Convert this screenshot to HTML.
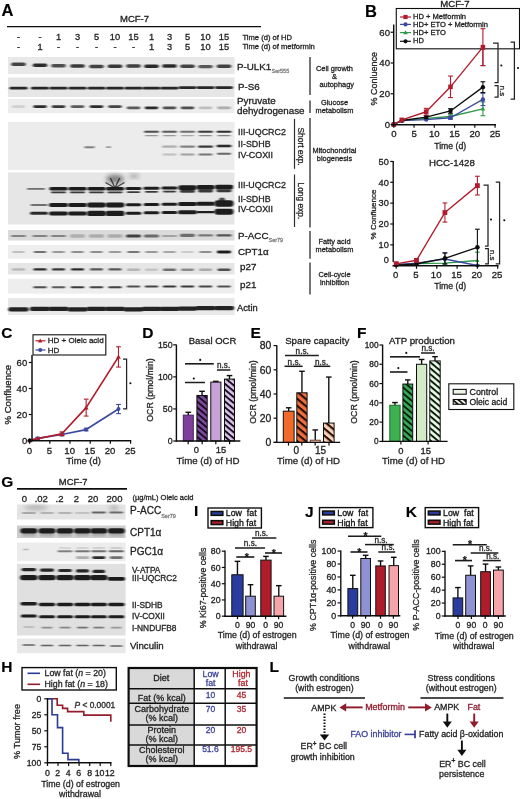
<!DOCTYPE html>
<html><head><meta charset="utf-8"><title>Figure</title>
<style>
html,body{margin:0;padding:0;background:#fff;}
svg{display:block;}
svg text{font-family:"Liberation Sans",sans-serif;}
</style></head>
<body>
<svg width="520" height="799" viewBox="0 0 520 799">
<defs>
<filter id="b1" x="-20%" y="-100%" width="140%" height="300%"><feGaussianBlur stdDeviation="0.9 0.55"/></filter>
<filter id="b2" x="-20%" y="-100%" width="140%" height="300%"><feGaussianBlur stdDeviation="1.3 0.8"/></filter>
<filter id="b3" x="-30%" y="-30%" width="160%" height="160%"><feGaussianBlur stdDeviation="2.2"/></filter>
<filter id="jpegsoft" x="0" y="0" width="520" height="799" filterUnits="userSpaceOnUse"><feGaussianBlur stdDeviation="0.32"/></filter>
<filter id="soft" x="-5%" y="-5%" width="110%" height="110%"><feGaussianBlur stdDeviation="0.35"/></filter>
<pattern id="hPurpleD" width="4.5" height="4.5" patternUnits="userSpaceOnUse" patternTransform="rotate(40)"><rect width="4.5" height="4.5" fill="#7f4c9f"/><rect width="4.5" height="1.9" fill="#160820"/></pattern>
<pattern id="hPurpleL" width="4.5" height="4.5" patternUnits="userSpaceOnUse" patternTransform="rotate(40)"><rect width="4.5" height="4.5" fill="#d9c3e3"/><rect width="4.5" height="1.9" fill="#160820"/></pattern>
<pattern id="hOrangeD" width="5.4" height="5.4" patternUnits="userSpaceOnUse" patternTransform="rotate(40)"><rect width="5.4" height="5.4" fill="#ef6f3c"/><rect width="5.4" height="2.1" fill="#260b03"/></pattern>
<pattern id="hOrangeL" width="5.4" height="5.4" patternUnits="userSpaceOnUse" patternTransform="rotate(40)"><rect width="5.4" height="5.4" fill="#fad0b8"/><rect width="5.4" height="2.1" fill="#260b03"/></pattern>
<pattern id="hGreenD" width="4.6" height="4.6" patternUnits="userSpaceOnUse" patternTransform="rotate(40)"><rect width="4.6" height="4.6" fill="#3aa857"/><rect width="4.6" height="1.9" fill="#04200d"/></pattern>
<pattern id="hGreenL" width="4.6" height="4.6" patternUnits="userSpaceOnUse" patternTransform="rotate(40)"><rect width="4.6" height="4.6" fill="#edf6e7"/><rect width="4.6" height="1.9" fill="#04200d"/></pattern>
<pattern id="hLegend" width="3.6" height="3.6" patternUnits="userSpaceOnUse" patternTransform="rotate(40)"><rect width="3.6" height="3.6" fill="#f2f8ee"/><rect width="3.6" height="1.7" fill="#111"/></pattern>
</defs>

<rect x="0" y="0" width="520" height="799" fill="#ffffff"/>
<g filter="url(#jpegsoft)">
<g id="panelA">
<text x="1.50" y="16.30" font-size="16.5" fill="#000" stroke="#000" stroke-width="0.15" font-weight="bold">A</text>
<text x="134.50" y="22.40" font-size="9.5" text-anchor="middle" fill="#222" stroke="#222" stroke-width="0.3">MCF-7</text>
<line x1="7.00" y1="26.60" x2="261.00" y2="26.60" stroke="#111" stroke-width="1.3"/>
<text x="18.50" y="40.30" font-size="9.3" text-anchor="middle" fill="#222" stroke="#222" stroke-width="0.3">-</text>
<text x="18.50" y="50.00" font-size="9.3" text-anchor="middle" fill="#222" stroke="#222" stroke-width="0.3">-</text>
<text x="40.00" y="40.30" font-size="9.3" text-anchor="middle" fill="#222" stroke="#222" stroke-width="0.3">-</text>
<text x="40.00" y="50.00" font-size="9.3" text-anchor="middle" fill="#222" stroke="#222" stroke-width="0.3">1</text>
<text x="58.50" y="40.30" font-size="9.3" text-anchor="middle" fill="#222" stroke="#222" stroke-width="0.3">1</text>
<text x="58.50" y="50.00" font-size="9.3" text-anchor="middle" fill="#222" stroke="#222" stroke-width="0.3">-</text>
<text x="77.50" y="40.30" font-size="9.3" text-anchor="middle" fill="#222" stroke="#222" stroke-width="0.3">3</text>
<text x="77.50" y="50.00" font-size="9.3" text-anchor="middle" fill="#222" stroke="#222" stroke-width="0.3">-</text>
<text x="96.50" y="40.30" font-size="9.3" text-anchor="middle" fill="#222" stroke="#222" stroke-width="0.3">5</text>
<text x="96.50" y="50.00" font-size="9.3" text-anchor="middle" fill="#222" stroke="#222" stroke-width="0.3">-</text>
<text x="115.00" y="40.30" font-size="9.3" text-anchor="middle" fill="#222" stroke="#222" stroke-width="0.3">10</text>
<text x="115.00" y="50.00" font-size="9.3" text-anchor="middle" fill="#222" stroke="#222" stroke-width="0.3">-</text>
<text x="133.50" y="40.30" font-size="9.3" text-anchor="middle" fill="#222" stroke="#222" stroke-width="0.3">15</text>
<text x="133.50" y="50.00" font-size="9.3" text-anchor="middle" fill="#222" stroke="#222" stroke-width="0.3">-</text>
<text x="151.50" y="40.30" font-size="9.3" text-anchor="middle" fill="#222" stroke="#222" stroke-width="0.3">1</text>
<text x="151.50" y="50.00" font-size="9.3" text-anchor="middle" fill="#222" stroke="#222" stroke-width="0.3">1</text>
<text x="169.50" y="40.30" font-size="9.3" text-anchor="middle" fill="#222" stroke="#222" stroke-width="0.3">3</text>
<text x="169.50" y="50.00" font-size="9.3" text-anchor="middle" fill="#222" stroke="#222" stroke-width="0.3">3</text>
<text x="187.50" y="40.30" font-size="9.3" text-anchor="middle" fill="#222" stroke="#222" stroke-width="0.3">5</text>
<text x="187.50" y="50.00" font-size="9.3" text-anchor="middle" fill="#222" stroke="#222" stroke-width="0.3">5</text>
<text x="205.50" y="40.30" font-size="9.3" text-anchor="middle" fill="#222" stroke="#222" stroke-width="0.3">10</text>
<text x="205.50" y="50.00" font-size="9.3" text-anchor="middle" fill="#222" stroke="#222" stroke-width="0.3">10</text>
<text x="224.00" y="40.30" font-size="9.3" text-anchor="middle" fill="#222" stroke="#222" stroke-width="0.3">15</text>
<text x="224.00" y="50.00" font-size="9.3" text-anchor="middle" fill="#222" stroke="#222" stroke-width="0.3">15</text>
<text x="242.50" y="39.60" font-size="7.6" fill="#262626" stroke="#262626" stroke-width="0.3">Time (d) of HD</text>
<text x="242.50" y="48.90" font-size="7.6" fill="#262626" stroke="#262626" stroke-width="0.3">Time (d) of metformin</text>
<rect x="8.00" y="57.00" width="226.50" height="17.00" fill="#e8e8e8" />
<rect x="11.25" y="62.60" width="14.50" height="3.40" rx="1.70" fill="#1a1a1a" fill-opacity="0.80" filter="url(#b1)"/>
<rect x="32.75" y="63.60" width="14.50" height="3.40" rx="1.70" fill="#1a1a1a" fill-opacity="0.90" filter="url(#b1)"/>
<rect x="51.25" y="64.10" width="14.50" height="3.40" rx="1.70" fill="#1a1a1a" fill-opacity="0.75" filter="url(#b1)"/>
<rect x="70.25" y="64.30" width="14.50" height="3.40" rx="1.70" fill="#1a1a1a" fill-opacity="0.85" filter="url(#b1)"/>
<rect x="89.25" y="64.80" width="14.50" height="3.40" rx="1.70" fill="#1a1a1a" fill-opacity="0.80" filter="url(#b1)"/>
<rect x="107.75" y="64.60" width="14.50" height="3.40" rx="1.70" fill="#1a1a1a" fill-opacity="0.85" filter="url(#b1)"/>
<rect x="126.25" y="64.30" width="14.50" height="3.40" rx="1.70" fill="#1a1a1a" fill-opacity="0.80" filter="url(#b1)"/>
<rect x="144.25" y="64.60" width="14.50" height="3.40" rx="1.70" fill="#1a1a1a" fill-opacity="0.90" filter="url(#b1)"/>
<rect x="162.25" y="64.30" width="14.50" height="3.40" rx="1.70" fill="#1a1a1a" fill-opacity="0.90" filter="url(#b1)"/>
<rect x="180.25" y="64.60" width="14.50" height="3.40" rx="1.70" fill="#1a1a1a" fill-opacity="0.80" filter="url(#b1)"/>
<rect x="198.25" y="64.90" width="14.50" height="3.40" rx="1.70" fill="#1a1a1a" fill-opacity="0.70" filter="url(#b1)"/>
<rect x="216.75" y="64.60" width="14.50" height="3.40" rx="1.70" fill="#1a1a1a" fill-opacity="0.80" filter="url(#b1)"/>
<rect x="8.00" y="77.50" width="226.50" height="19.50" fill="#e6e6e6" />
<rect x="9.50" y="86.80" width="18.00" height="2.80" rx="1.40" fill="#1a1a1a" fill-opacity="0.95" filter="url(#b1)"/>
<rect x="31.00" y="86.80" width="18.00" height="2.80" rx="1.40" fill="#1a1a1a" fill-opacity="0.95" filter="url(#b1)"/>
<rect x="49.50" y="86.80" width="18.00" height="2.80" rx="1.40" fill="#1a1a1a" fill-opacity="0.95" filter="url(#b1)"/>
<rect x="68.50" y="86.80" width="18.00" height="2.80" rx="1.40" fill="#1a1a1a" fill-opacity="0.95" filter="url(#b1)"/>
<rect x="87.50" y="86.80" width="18.00" height="2.80" rx="1.40" fill="#1a1a1a" fill-opacity="0.95" filter="url(#b1)"/>
<rect x="106.00" y="86.80" width="18.00" height="2.80" rx="1.40" fill="#1a1a1a" fill-opacity="0.95" filter="url(#b1)"/>
<rect x="124.50" y="86.80" width="18.00" height="2.80" rx="1.40" fill="#1a1a1a" fill-opacity="0.95" filter="url(#b1)"/>
<rect x="142.50" y="86.80" width="18.00" height="2.80" rx="1.40" fill="#1a1a1a" fill-opacity="0.95" filter="url(#b1)"/>
<rect x="160.50" y="86.80" width="18.00" height="2.80" rx="1.40" fill="#1a1a1a" fill-opacity="0.95" filter="url(#b1)"/>
<rect x="178.50" y="86.20" width="18.00" height="2.80" rx="1.40" fill="#1a1a1a" fill-opacity="0.95" filter="url(#b1)"/>
<rect x="196.50" y="86.20" width="18.00" height="2.80" rx="1.40" fill="#1a1a1a" fill-opacity="0.95" filter="url(#b1)"/>
<rect x="215.00" y="86.20" width="18.00" height="2.80" rx="1.40" fill="#1a1a1a" fill-opacity="0.95" filter="url(#b1)"/>
<rect x="8.00" y="99.00" width="226.50" height="14.00" fill="#ededed" />
<rect x="11.75" y="105.20" width="13.50" height="2.80" rx="1.40" fill="#1a1a1a" fill-opacity="0.12" filter="url(#b1)"/>
<rect x="33.25" y="105.20" width="13.50" height="2.80" rx="1.40" fill="#1a1a1a" fill-opacity="0.90" filter="url(#b1)"/>
<rect x="51.75" y="105.20" width="13.50" height="2.80" rx="1.40" fill="#1a1a1a" fill-opacity="0.85" filter="url(#b1)"/>
<rect x="70.75" y="105.20" width="13.50" height="2.80" rx="1.40" fill="#1a1a1a" fill-opacity="0.70" filter="url(#b1)"/>
<rect x="89.75" y="105.20" width="13.50" height="2.80" rx="1.40" fill="#1a1a1a" fill-opacity="0.90" filter="url(#b1)"/>
<rect x="108.25" y="105.20" width="13.50" height="2.80" rx="1.40" fill="#1a1a1a" fill-opacity="0.80" filter="url(#b1)"/>
<rect x="126.75" y="106.40" width="13.50" height="2.80" rx="1.40" fill="#1a1a1a" fill-opacity="0.70" filter="url(#b1)"/>
<rect x="144.75" y="106.40" width="13.50" height="2.80" rx="1.40" fill="#1a1a1a" fill-opacity="0.90" filter="url(#b1)"/>
<rect x="162.75" y="106.40" width="13.50" height="2.80" rx="1.40" fill="#1a1a1a" fill-opacity="0.75" filter="url(#b1)"/>
<rect x="180.75" y="106.40" width="13.50" height="2.80" rx="1.40" fill="#1a1a1a" fill-opacity="0.75" filter="url(#b1)"/>
<rect x="198.75" y="106.40" width="13.50" height="2.80" rx="1.40" fill="#1a1a1a" fill-opacity="0.20" filter="url(#b1)"/>
<rect x="217.25" y="106.40" width="13.50" height="2.80" rx="1.40" fill="#1a1a1a" fill-opacity="0.30" filter="url(#b1)"/>
<rect x="8.00" y="122.00" width="226.50" height="48.00" fill="#ececec" />
<rect x="144.00" y="130.75" width="15.00" height="2.10" rx="1.05" fill="#1a1a1a" fill-opacity="0.75" filter="url(#b1)"/>
<rect x="145.00" y="134.90" width="13.00" height="1.40" rx="0.70" fill="#1a1a1a" fill-opacity="0.41" filter="url(#b1)"/>
<rect x="162.00" y="130.75" width="15.00" height="2.10" rx="1.05" fill="#1a1a1a" fill-opacity="0.70" filter="url(#b1)"/>
<rect x="163.00" y="134.90" width="13.00" height="1.40" rx="0.70" fill="#1a1a1a" fill-opacity="0.39" filter="url(#b1)"/>
<rect x="180.00" y="130.75" width="15.00" height="2.10" rx="1.05" fill="#1a1a1a" fill-opacity="0.60" filter="url(#b1)"/>
<rect x="181.00" y="134.90" width="13.00" height="1.40" rx="0.70" fill="#1a1a1a" fill-opacity="0.33" filter="url(#b1)"/>
<rect x="198.00" y="130.75" width="15.00" height="2.10" rx="1.05" fill="#1a1a1a" fill-opacity="0.85" filter="url(#b1)"/>
<rect x="199.00" y="134.90" width="13.00" height="1.40" rx="0.70" fill="#1a1a1a" fill-opacity="0.47" filter="url(#b1)"/>
<rect x="216.50" y="130.75" width="15.00" height="2.10" rx="1.05" fill="#1a1a1a" fill-opacity="0.90" filter="url(#b1)"/>
<rect x="217.50" y="134.90" width="13.00" height="1.40" rx="0.70" fill="#1a1a1a" fill-opacity="0.50" filter="url(#b1)"/>
<rect x="84.25" y="146.25" width="10.50" height="1.90" rx="0.95" fill="#1a1a1a" fill-opacity="0.50" filter="url(#b1)"/>
<rect x="106.00" y="146.35" width="5.00" height="1.70" rx="0.85" fill="#1a1a1a" fill-opacity="0.40" filter="url(#b1)"/>
<rect x="162.00" y="145.40" width="15.00" height="2.40" rx="1.20" fill="#1a1a1a" fill-opacity="0.30" filter="url(#b1)"/>
<rect x="162.50" y="153.40" width="14.00" height="2.00" rx="1.00" fill="#1a1a1a" fill-opacity="0.21" filter="url(#b1)"/>
<rect x="180.00" y="145.40" width="15.00" height="2.40" rx="1.20" fill="#1a1a1a" fill-opacity="0.50" filter="url(#b1)"/>
<rect x="180.50" y="153.40" width="14.00" height="2.00" rx="1.00" fill="#1a1a1a" fill-opacity="0.35" filter="url(#b1)"/>
<rect x="198.00" y="145.40" width="15.00" height="2.40" rx="1.20" fill="#1a1a1a" fill-opacity="0.85" filter="url(#b1)"/>
<rect x="198.50" y="153.40" width="14.00" height="2.00" rx="1.00" fill="#1a1a1a" fill-opacity="0.59" filter="url(#b1)"/>
<rect x="216.50" y="144.80" width="15.00" height="2.40" rx="1.20" fill="#1a1a1a" fill-opacity="0.90" filter="url(#b1)"/>
<rect x="217.00" y="152.80" width="14.00" height="2.00" rx="1.00" fill="#1a1a1a" fill-opacity="0.63" filter="url(#b1)"/>
<rect x="8.00" y="172.50" width="226.50" height="52.00" fill="#e6e6e6" />
<ellipse cx="115" cy="179" rx="9" ry="4.5" fill="#333" fill-opacity=".55" filter="url(#b3)"/>
<ellipse cx="134" cy="176" rx="5" ry="2.5" fill="#333" fill-opacity=".3" filter="url(#b3)"/>
<line x1="115" y1="188" x2="105.5" y2="182.5" stroke="#1a1a1a" stroke-width="1.3" stroke-opacity=".8" filter="url(#soft)"/>
<line x1="115" y1="188" x2="110.4" y2="178.0" stroke="#1a1a1a" stroke-width="1.3" stroke-opacity=".8" filter="url(#soft)"/>
<line x1="115" y1="188" x2="119.6" y2="178.0" stroke="#1a1a1a" stroke-width="1.3" stroke-opacity=".8" filter="url(#soft)"/>
<line x1="115" y1="188" x2="124.5" y2="182.5" stroke="#1a1a1a" stroke-width="1.3" stroke-opacity=".8" filter="url(#soft)"/>
<rect x="27.00" y="188.10" width="18.00" height="1.60" rx="0.80" fill="#1a1a1a" fill-opacity="0.60" filter="url(#b1)"/>
<rect x="30.50" y="204.20" width="17.00" height="1.60" rx="0.80" fill="#1a1a1a" fill-opacity="0.75" filter="url(#b1)"/>
<rect x="30.00" y="211.70" width="18.00" height="3.00" rx="1.50" fill="#1a1a1a" fill-opacity="0.90" filter="url(#b1)"/>
<rect x="49.25" y="187.00" width="18.50" height="3.40" rx="1.70" fill="#1a1a1a" fill-opacity="1.00" filter="url(#b1)"/>
<rect x="51.00" y="191.60" width="15.00" height="1.60" rx="0.80" fill="#1a1a1a" fill-opacity="0.85" filter="url(#b1)"/>
<rect x="49.00" y="203.00" width="19.00" height="4.00" rx="2.00" fill="#1a1a1a" fill-opacity="1.00" filter="url(#b1)"/>
<rect x="49.00" y="211.40" width="19.00" height="4.00" rx="2.00" fill="#1a1a1a" fill-opacity="1.00" filter="url(#b1)"/>
<rect x="68.25" y="187.00" width="18.50" height="3.40" rx="1.70" fill="#1a1a1a" fill-opacity="1.00" filter="url(#b1)"/>
<rect x="70.00" y="191.60" width="15.00" height="1.60" rx="0.80" fill="#1a1a1a" fill-opacity="0.85" filter="url(#b1)"/>
<rect x="68.00" y="203.00" width="19.00" height="4.00" rx="2.00" fill="#1a1a1a" fill-opacity="1.00" filter="url(#b1)"/>
<rect x="68.00" y="211.40" width="19.00" height="4.00" rx="2.00" fill="#1a1a1a" fill-opacity="1.00" filter="url(#b1)"/>
<rect x="87.25" y="187.00" width="18.50" height="3.40" rx="1.70" fill="#1a1a1a" fill-opacity="1.00" filter="url(#b1)"/>
<rect x="89.00" y="191.60" width="15.00" height="1.60" rx="0.80" fill="#1a1a1a" fill-opacity="0.85" filter="url(#b1)"/>
<rect x="87.00" y="202.60" width="19.00" height="4.80" rx="2.40" fill="#1a1a1a" fill-opacity="1.00" filter="url(#b1)"/>
<rect x="87.00" y="210.80" width="19.00" height="5.20" rx="2.60" fill="#1a1a1a" fill-opacity="1.00" filter="url(#b1)"/>
<rect x="105.75" y="187.00" width="18.50" height="3.40" rx="1.70" fill="#1a1a1a" fill-opacity="1.00" filter="url(#b1)"/>
<rect x="107.50" y="191.60" width="15.00" height="1.60" rx="0.80" fill="#1a1a1a" fill-opacity="0.85" filter="url(#b1)"/>
<rect x="105.50" y="202.60" width="19.00" height="4.80" rx="2.40" fill="#1a1a1a" fill-opacity="1.00" filter="url(#b1)"/>
<rect x="105.50" y="210.80" width="19.00" height="5.20" rx="2.60" fill="#1a1a1a" fill-opacity="1.00" filter="url(#b1)"/>
<rect x="125.50" y="186.93" width="16.00" height="3.00" rx="1.50" fill="#1a1a1a" fill-opacity="1.00" filter="url(#b1)"/>
<rect x="127.00" y="191.33" width="13.00" height="1.60" rx="0.80" fill="#1a1a1a" fill-opacity="0.85" filter="url(#b1)"/>
<rect x="125.75" y="203.18" width="15.50" height="3.10" rx="1.55" fill="#1a1a1a" fill-opacity="1.00" filter="url(#b1)"/>
<rect x="125.75" y="211.63" width="15.50" height="3.00" rx="1.50" fill="#1a1a1a" fill-opacity="1.00" filter="url(#b1)"/>
<rect x="143.50" y="186.67" width="16.00" height="3.00" rx="1.50" fill="#1a1a1a" fill-opacity="1.00" filter="url(#b1)"/>
<rect x="145.00" y="191.07" width="13.00" height="1.60" rx="0.80" fill="#1a1a1a" fill-opacity="0.85" filter="url(#b1)"/>
<rect x="143.75" y="202.92" width="15.50" height="3.10" rx="1.55" fill="#1a1a1a" fill-opacity="1.00" filter="url(#b1)"/>
<rect x="143.75" y="211.37" width="15.50" height="3.00" rx="1.50" fill="#1a1a1a" fill-opacity="1.00" filter="url(#b1)"/>
<rect x="161.50" y="186.40" width="16.00" height="3.00" rx="1.50" fill="#1a1a1a" fill-opacity="1.00" filter="url(#b1)"/>
<rect x="163.00" y="190.80" width="13.00" height="1.60" rx="0.80" fill="#1a1a1a" fill-opacity="0.85" filter="url(#b1)"/>
<rect x="161.75" y="202.65" width="15.50" height="3.10" rx="1.55" fill="#1a1a1a" fill-opacity="1.00" filter="url(#b1)"/>
<rect x="161.75" y="211.10" width="15.50" height="3.00" rx="1.50" fill="#1a1a1a" fill-opacity="1.00" filter="url(#b1)"/>
<rect x="178.25" y="185.33" width="18.50" height="4.60" rx="2.30" fill="#1a1a1a" fill-opacity="1.00" filter="url(#b1)"/>
<rect x="180.00" y="189.93" width="15.00" height="2.80" rx="1.40" fill="#1a1a1a" fill-opacity="0.85" filter="url(#b1)"/>
<rect x="178.00" y="201.93" width="19.00" height="4.00" rx="2.00" fill="#1a1a1a" fill-opacity="1.00" filter="url(#b1)"/>
<rect x="178.00" y="210.33" width="19.00" height="4.00" rx="2.00" fill="#1a1a1a" fill-opacity="1.00" filter="url(#b1)"/>
<rect x="196.25" y="185.07" width="18.50" height="4.60" rx="2.30" fill="#1a1a1a" fill-opacity="1.00" filter="url(#b1)"/>
<rect x="198.00" y="189.67" width="15.00" height="2.80" rx="1.40" fill="#1a1a1a" fill-opacity="0.85" filter="url(#b1)"/>
<rect x="196.00" y="201.67" width="19.00" height="4.00" rx="2.00" fill="#1a1a1a" fill-opacity="1.00" filter="url(#b1)"/>
<rect x="196.00" y="210.97" width="19.00" height="2.20" rx="1.10" fill="#1a1a1a" fill-opacity="1.00" filter="url(#b1)"/>
<rect x="214.75" y="184.80" width="18.50" height="4.60" rx="2.30" fill="#1a1a1a" fill-opacity="1.00" filter="url(#b1)"/>
<rect x="216.50" y="189.40" width="15.00" height="2.80" rx="1.40" fill="#1a1a1a" fill-opacity="0.85" filter="url(#b1)"/>
<rect x="214.50" y="200.15" width="19.00" height="6.50" rx="3.25" fill="#1a1a1a" fill-opacity="1.00" filter="url(#b1)"/>
<rect x="214.50" y="208.80" width="19.00" height="6.00" rx="3.00" fill="#1a1a1a" fill-opacity="1.00" filter="url(#b1)"/>
<ellipse cx="222" cy="199.5" rx="3" ry="2" fill="#222" fill-opacity=".8" filter="url(#b1)"/>
<rect x="8.00" y="230.00" width="226.50" height="10.50" fill="#dbdbdb" />
<rect x="11.00" y="234.90" width="15.00" height="2.20" rx="1.10" fill="#1a1a1a" fill-opacity="0.45" filter="url(#b1)"/>
<rect x="32.50" y="234.90" width="15.00" height="2.20" rx="1.10" fill="#1a1a1a" fill-opacity="0.45" filter="url(#b1)"/>
<rect x="51.00" y="234.90" width="15.00" height="2.20" rx="1.10" fill="#1a1a1a" fill-opacity="0.45" filter="url(#b1)"/>
<rect x="70.00" y="234.30" width="15.00" height="3.40" rx="1.70" fill="#1a1a1a" fill-opacity="0.20" filter="url(#b1)"/>
<rect x="89.00" y="234.30" width="15.00" height="3.40" rx="1.70" fill="#1a1a1a" fill-opacity="0.25" filter="url(#b1)"/>
<rect x="107.50" y="234.30" width="15.00" height="3.40" rx="1.70" fill="#1a1a1a" fill-opacity="0.25" filter="url(#b1)"/>
<rect x="126.00" y="234.40" width="15.00" height="3.20" rx="1.60" fill="#1a1a1a" fill-opacity="0.80" filter="url(#b1)"/>
<rect x="144.00" y="234.40" width="15.00" height="3.20" rx="1.60" fill="#1a1a1a" fill-opacity="0.60" filter="url(#b1)"/>
<rect x="162.00" y="234.90" width="15.00" height="2.20" rx="1.10" fill="#1a1a1a" fill-opacity="0.30" filter="url(#b1)"/>
<rect x="180.00" y="233.80" width="15.00" height="3.20" rx="1.60" fill="#1a1a1a" fill-opacity="0.55" filter="url(#b1)"/>
<rect x="198.00" y="234.30" width="15.00" height="2.20" rx="1.10" fill="#1a1a1a" fill-opacity="0.50" filter="url(#b1)"/>
<rect x="216.50" y="234.30" width="15.00" height="2.20" rx="1.10" fill="#1a1a1a" fill-opacity="0.70" filter="url(#b1)"/>
<rect x="8.00" y="245.00" width="226.50" height="13.70" fill="#eeeeee" />
<rect x="12.25" y="250.90" width="12.50" height="2.20" rx="1.10" fill="#1a1a1a" fill-opacity="0.20" filter="url(#b1)"/>
<rect x="33.75" y="250.90" width="12.50" height="2.20" rx="1.10" fill="#1a1a1a" fill-opacity="0.60" filter="url(#b1)"/>
<rect x="52.25" y="250.90" width="12.50" height="2.20" rx="1.10" fill="#1a1a1a" fill-opacity="0.40" filter="url(#b1)"/>
<rect x="71.25" y="250.90" width="12.50" height="2.20" rx="1.10" fill="#1a1a1a" fill-opacity="0.45" filter="url(#b1)"/>
<rect x="90.25" y="250.90" width="12.50" height="2.20" rx="1.10" fill="#1a1a1a" fill-opacity="0.45" filter="url(#b1)"/>
<rect x="108.75" y="250.90" width="12.50" height="2.20" rx="1.10" fill="#1a1a1a" fill-opacity="0.40" filter="url(#b1)"/>
<rect x="127.25" y="250.90" width="12.50" height="2.20" rx="1.10" fill="#1a1a1a" fill-opacity="0.55" filter="url(#b1)"/>
<rect x="145.25" y="250.90" width="12.50" height="2.20" rx="1.10" fill="#1a1a1a" fill-opacity="0.40" filter="url(#b1)"/>
<rect x="163.25" y="250.90" width="12.50" height="2.20" rx="1.10" fill="#1a1a1a" fill-opacity="0.35" filter="url(#b1)"/>
<rect x="181.25" y="250.90" width="12.50" height="2.20" rx="1.10" fill="#1a1a1a" fill-opacity="0.15" filter="url(#b1)"/>
<rect x="199.25" y="250.90" width="12.50" height="2.20" rx="1.10" fill="#1a1a1a" fill-opacity="0.45" filter="url(#b1)"/>
<rect x="217.75" y="250.90" width="12.50" height="2.20" rx="1.10" fill="#1a1a1a" fill-opacity="0.70" filter="url(#b1)"/>
<rect x="217.00" y="250.60" width="14.00" height="2.80" rx="1.40" fill="#1a1a1a" fill-opacity="0.90" filter="url(#b1)"/>
<rect x="8.00" y="263.00" width="226.50" height="11.50" fill="#e6e6e6" />
<rect x="12.00" y="268.20" width="13.00" height="2.40" rx="1.20" fill="#1a1a1a" fill-opacity="0.25" filter="url(#b1)"/>
<rect x="33.50" y="268.20" width="13.00" height="2.40" rx="1.20" fill="#1a1a1a" fill-opacity="0.90" filter="url(#b1)"/>
<rect x="52.00" y="268.20" width="13.00" height="2.40" rx="1.20" fill="#1a1a1a" fill-opacity="0.85" filter="url(#b1)"/>
<rect x="71.00" y="268.20" width="13.00" height="2.40" rx="1.20" fill="#1a1a1a" fill-opacity="0.90" filter="url(#b1)"/>
<rect x="90.00" y="268.20" width="13.00" height="2.40" rx="1.20" fill="#1a1a1a" fill-opacity="0.70" filter="url(#b1)"/>
<rect x="108.50" y="268.20" width="13.00" height="2.40" rx="1.20" fill="#1a1a1a" fill-opacity="0.70" filter="url(#b1)"/>
<rect x="127.00" y="268.60" width="13.00" height="2.40" rx="1.20" fill="#1a1a1a" fill-opacity="0.25" filter="url(#b1)"/>
<rect x="145.00" y="268.60" width="13.00" height="2.40" rx="1.20" fill="#1a1a1a" fill-opacity="0.15" filter="url(#b1)"/>
<rect x="163.00" y="268.60" width="13.00" height="2.40" rx="1.20" fill="#1a1a1a" fill-opacity="0.60" filter="url(#b1)"/>
<rect x="181.00" y="268.60" width="13.00" height="2.40" rx="1.20" fill="#1a1a1a" fill-opacity="0.45" filter="url(#b1)"/>
<rect x="199.00" y="268.60" width="13.00" height="2.40" rx="1.20" fill="#1a1a1a" fill-opacity="0.30" filter="url(#b1)"/>
<rect x="217.50" y="268.60" width="13.00" height="2.40" rx="1.20" fill="#1a1a1a" fill-opacity="0.75" filter="url(#b1)"/>
<rect x="8.00" y="278.70" width="226.50" height="15.00" fill="#eeeeee" />
<rect x="33.25" y="286.20" width="13.50" height="2.00" rx="1.00" fill="#1a1a1a" fill-opacity="0.75" filter="url(#b1)"/>
<rect x="51.75" y="286.20" width="13.50" height="2.00" rx="1.00" fill="#1a1a1a" fill-opacity="0.70" filter="url(#b1)"/>
<rect x="70.75" y="286.20" width="13.50" height="2.00" rx="1.00" fill="#1a1a1a" fill-opacity="0.85" filter="url(#b1)"/>
<rect x="89.75" y="286.20" width="13.50" height="2.00" rx="1.00" fill="#1a1a1a" fill-opacity="0.80" filter="url(#b1)"/>
<rect x="108.25" y="286.20" width="13.50" height="2.00" rx="1.00" fill="#1a1a1a" fill-opacity="0.80" filter="url(#b1)"/>
<rect x="126.75" y="285.40" width="13.50" height="2.00" rx="1.00" fill="#1a1a1a" fill-opacity="0.75" filter="url(#b1)"/>
<rect x="144.75" y="285.40" width="13.50" height="2.00" rx="1.00" fill="#1a1a1a" fill-opacity="0.80" filter="url(#b1)"/>
<rect x="162.75" y="285.40" width="13.50" height="2.00" rx="1.00" fill="#1a1a1a" fill-opacity="0.85" filter="url(#b1)"/>
<rect x="180.75" y="285.40" width="13.50" height="2.00" rx="1.00" fill="#1a1a1a" fill-opacity="0.85" filter="url(#b1)"/>
<rect x="198.75" y="285.40" width="13.50" height="2.00" rx="1.00" fill="#1a1a1a" fill-opacity="0.80" filter="url(#b1)"/>
<rect x="217.25" y="285.40" width="13.50" height="2.00" rx="1.00" fill="#1a1a1a" fill-opacity="0.75" filter="url(#b1)"/>
<rect x="8.00" y="298.00" width="226.50" height="17.00" fill="#e8e8e8" />
<rect x="8.25" y="307.25" width="20.50" height="4.30" rx="2.15" fill="#1a1a1a" fill-opacity="0.97" filter="url(#b1)"/>
<rect x="29.75" y="306.75" width="20.50" height="4.30" rx="2.15" fill="#1a1a1a" fill-opacity="0.97" filter="url(#b1)"/>
<rect x="48.25" y="306.75" width="20.50" height="4.30" rx="2.15" fill="#1a1a1a" fill-opacity="0.97" filter="url(#b1)"/>
<rect x="67.25" y="307.25" width="20.50" height="4.30" rx="2.15" fill="#1a1a1a" fill-opacity="0.97" filter="url(#b1)"/>
<rect x="86.25" y="306.75" width="20.50" height="4.30" rx="2.15" fill="#1a1a1a" fill-opacity="0.97" filter="url(#b1)"/>
<rect x="104.75" y="306.75" width="20.50" height="4.30" rx="2.15" fill="#1a1a1a" fill-opacity="0.97" filter="url(#b1)"/>
<rect x="123.25" y="307.25" width="20.50" height="4.30" rx="2.15" fill="#1a1a1a" fill-opacity="0.97" filter="url(#b1)"/>
<rect x="141.25" y="306.75" width="20.50" height="4.30" rx="2.15" fill="#1a1a1a" fill-opacity="0.97" filter="url(#b1)"/>
<rect x="159.25" y="306.75" width="20.50" height="4.30" rx="2.15" fill="#1a1a1a" fill-opacity="0.97" filter="url(#b1)"/>
<rect x="177.25" y="306.45" width="20.50" height="4.30" rx="2.15" fill="#1a1a1a" fill-opacity="0.97" filter="url(#b1)"/>
<rect x="195.25" y="305.95" width="20.50" height="4.30" rx="2.15" fill="#1a1a1a" fill-opacity="0.97" filter="url(#b1)"/>
<rect x="213.75" y="305.95" width="20.50" height="4.30" rx="2.15" fill="#1a1a1a" fill-opacity="0.97" filter="url(#b1)"/>
<text x="237.00" y="69.50" font-size="9.8" fill="#222" stroke="#222" stroke-width="0.3">P-ULK1</text>
<text x="271.50" y="73.00" font-size="5.5" fill="#808080" stroke="#808080" stroke-width="0.3">Ser555</text>
<text x="238.00" y="90.00" font-size="9.8" fill="#222" stroke="#222" stroke-width="0.3">P-S6</text>
<text x="237.00" y="103.80" font-size="9.8" fill="#222" stroke="#222" stroke-width="0.3">Pyruvate</text>
<text x="237.00" y="113.90" font-size="9.8" fill="#222" stroke="#222" stroke-width="0.3">dehydrogenase</text>
<text x="238.00" y="135.00" font-size="8.9" fill="#262626" stroke="#262626" stroke-width="0.3">III-UQCRC2</text>
<text x="238.00" y="147.00" font-size="8.9" fill="#262626" stroke="#262626" stroke-width="0.3">II-SDHB</text>
<text x="238.00" y="157.50" font-size="8.9" fill="#262626" stroke="#262626" stroke-width="0.3">IV-COXII</text>
<text x="238.00" y="187.50" font-size="8.9" fill="#262626" stroke="#262626" stroke-width="0.3">III-UQCRC2</text>
<text x="238.00" y="202.30" font-size="8.9" fill="#262626" stroke="#262626" stroke-width="0.3">II-SDHB</text>
<text x="238.00" y="212.00" font-size="8.9" fill="#262626" stroke="#262626" stroke-width="0.3">IV-COXII</text>
<text x="238.00" y="238.80" font-size="9.8" fill="#222" stroke="#222" stroke-width="0.3">P-ACC</text>
<text x="268.50" y="242.00" font-size="5.5" fill="#808080" stroke="#808080" stroke-width="0.3">Ser79</text>
<text x="238.00" y="254.60" font-size="9.8" fill="#222" stroke="#222" stroke-width="0.3">CPT1α</text>
<text x="240.00" y="269.50" font-size="9.8" fill="#222" stroke="#222" stroke-width="0.3">p27</text>
<text x="240.00" y="288.00" font-size="9.8" fill="#222" stroke="#222" stroke-width="0.3">p21</text>
<text x="237.00" y="311.00" font-size="9.3" fill="#222" stroke="#222" stroke-width="0.3">Actin</text>
<line x1="294.50" y1="119.00" x2="294.50" y2="168.80" stroke="#2a2a2a" stroke-width="1.2"/>
<line x1="294.50" y1="174.50" x2="294.50" y2="227.00" stroke="#2a2a2a" stroke-width="1.2"/>
<text x="298.30" y="127.50" font-size="8.4" fill="#262626" stroke="#262626" stroke-width="0.3" transform="rotate(90 298.30 127.50)">Short exp.</text>
<text x="298.30" y="182.50" font-size="8.4" fill="#262626" stroke="#262626" stroke-width="0.3" transform="rotate(90 298.30 182.50)">Long exp.</text>
<line x1="310.00" y1="57.00" x2="310.00" y2="95.00" stroke="#2a2a2a" stroke-width="1.3"/>
<line x1="310.00" y1="100.50" x2="310.00" y2="113.00" stroke="#2a2a2a" stroke-width="1.3"/>
<line x1="310.00" y1="118.00" x2="310.00" y2="227.50" stroke="#2a2a2a" stroke-width="1.3"/>
<line x1="310.00" y1="231.00" x2="310.00" y2="258.80" stroke="#2a2a2a" stroke-width="1.3"/>
<line x1="310.00" y1="262.50" x2="310.00" y2="294.50" stroke="#2a2a2a" stroke-width="1.3"/>
<text x="334.50" y="71.00" font-size="7.4" text-anchor="middle" fill="#262626" stroke="#262626" stroke-width="0.3">Cell growth</text>
<text x="334.50" y="79.30" font-size="7.4" text-anchor="middle" fill="#262626" stroke="#262626" stroke-width="0.3">&amp;</text>
<text x="336.70" y="87.00" font-size="7.4" text-anchor="middle" fill="#262626" stroke="#262626" stroke-width="0.3">autophagy</text>
<text x="334.50" y="105.00" font-size="7.4" text-anchor="middle" fill="#262626" stroke="#262626" stroke-width="0.3">Glucose</text>
<text x="334.50" y="112.60" font-size="7.4" text-anchor="middle" fill="#262626" stroke="#262626" stroke-width="0.3">metabolism</text>
<text x="334.50" y="153.00" font-size="7.4" text-anchor="middle" fill="#262626" stroke="#262626" stroke-width="0.3">Mitochondrial</text>
<text x="334.50" y="161.20" font-size="7.4" text-anchor="middle" fill="#262626" stroke="#262626" stroke-width="0.3">biogenesis</text>
<text x="334.50" y="243.80" font-size="7.4" text-anchor="middle" fill="#262626" stroke="#262626" stroke-width="0.3">Fatty acid</text>
<text x="334.50" y="252.00" font-size="7.4" text-anchor="middle" fill="#262626" stroke="#262626" stroke-width="0.3">metabolism</text>
<text x="334.50" y="277.00" font-size="7.4" text-anchor="middle" fill="#262626" stroke="#262626" stroke-width="0.3">Cell-cycle</text>
<text x="334.50" y="285.20" font-size="7.4" text-anchor="middle" fill="#262626" stroke="#262626" stroke-width="0.3">inhibition</text>
</g>
<g id="panelB">
<text x="365.00" y="17.00" font-size="16.5" fill="#000" stroke="#000" stroke-width="0.15" font-weight="bold">B</text>
<polyline points="393.80,124.50 401.90,120.66 426.20,118.35 450.50,116.50 482.90,108.82" fill="none" stroke="#2f9a48" stroke-width="1.35" stroke-linejoin="round"/>
<line x1="450.50" y1="114.66" x2="450.50" y2="118.35" stroke="#2f9a48" stroke-width="1.1"/>
<line x1="448.10" y1="114.66" x2="452.90" y2="114.66" stroke="#2f9a48" stroke-width="1.1"/>
<line x1="448.10" y1="118.35" x2="452.90" y2="118.35" stroke="#2f9a48" stroke-width="1.1"/>
<line x1="482.90" y1="101.90" x2="482.90" y2="115.74" stroke="#2f9a48" stroke-width="1.1"/>
<line x1="480.50" y1="101.90" x2="485.30" y2="101.90" stroke="#2f9a48" stroke-width="1.1"/>
<line x1="480.50" y1="115.74" x2="485.30" y2="115.74" stroke="#2f9a48" stroke-width="1.1"/>
<polygon points="393.80,122.10 391.50,126.20 396.10,126.20" fill="#2f9a48"/>
<polygon points="401.90,118.26 399.60,122.36 404.20,122.36" fill="#2f9a48"/>
<polygon points="426.20,115.95 423.90,120.05 428.50,120.05" fill="#2f9a48"/>
<polygon points="450.50,114.10 448.20,118.20 452.80,118.20" fill="#2f9a48"/>
<polygon points="482.90,106.42 480.60,110.52 485.20,110.52" fill="#2f9a48"/>
<polyline points="393.80,124.50 401.90,120.66 426.20,119.58 450.50,117.73 482.90,99.44" fill="none" stroke="#3b4a9f" stroke-width="1.35" stroke-linejoin="round"/>
<line x1="450.50" y1="116.20" x2="450.50" y2="119.27" stroke="#3b4a9f" stroke-width="1.1"/>
<line x1="448.10" y1="116.20" x2="452.90" y2="116.20" stroke="#3b4a9f" stroke-width="1.1"/>
<line x1="448.10" y1="119.27" x2="452.90" y2="119.27" stroke="#3b4a9f" stroke-width="1.1"/>
<line x1="482.90" y1="93.29" x2="482.90" y2="105.59" stroke="#3b4a9f" stroke-width="1.1"/>
<line x1="480.50" y1="93.29" x2="485.30" y2="93.29" stroke="#3b4a9f" stroke-width="1.1"/>
<line x1="480.50" y1="105.59" x2="485.30" y2="105.59" stroke="#3b4a9f" stroke-width="1.1"/>
<circle cx="393.80" cy="124.50" r="2.2" fill="#3b4a9f"/>
<circle cx="401.90" cy="120.66" r="2.2" fill="#3b4a9f"/>
<circle cx="426.20" cy="119.58" r="2.2" fill="#3b4a9f"/>
<circle cx="450.50" cy="117.73" r="2.2" fill="#3b4a9f"/>
<circle cx="482.90" cy="99.44" r="2.2" fill="#3b4a9f"/>
<polyline points="393.80,124.50 401.90,120.50 426.20,117.12 450.50,110.97 482.90,87.14" fill="none" stroke="#111" stroke-width="1.35" stroke-linejoin="round"/>
<line x1="426.20" y1="115.58" x2="426.20" y2="118.66" stroke="#111" stroke-width="1.1"/>
<line x1="423.80" y1="115.58" x2="428.60" y2="115.58" stroke="#111" stroke-width="1.1"/>
<line x1="423.80" y1="118.66" x2="428.60" y2="118.66" stroke="#111" stroke-width="1.1"/>
<line x1="450.50" y1="108.66" x2="450.50" y2="113.28" stroke="#111" stroke-width="1.1"/>
<line x1="448.10" y1="108.66" x2="452.90" y2="108.66" stroke="#111" stroke-width="1.1"/>
<line x1="448.10" y1="113.28" x2="452.90" y2="113.28" stroke="#111" stroke-width="1.1"/>
<line x1="482.90" y1="81.76" x2="482.90" y2="92.52" stroke="#111" stroke-width="1.1"/>
<line x1="480.50" y1="81.76" x2="485.30" y2="81.76" stroke="#111" stroke-width="1.1"/>
<line x1="480.50" y1="92.52" x2="485.30" y2="92.52" stroke="#111" stroke-width="1.1"/>
<circle cx="393.80" cy="124.50" r="2.2" fill="#111"/>
<circle cx="401.90" cy="120.50" r="2.2" fill="#111"/>
<circle cx="426.20" cy="117.12" r="2.2" fill="#111"/>
<circle cx="450.50" cy="110.97" r="2.2" fill="#111"/>
<circle cx="482.90" cy="87.14" r="2.2" fill="#111"/>
<polyline points="393.80,124.50 401.90,119.89 426.20,111.74 450.50,86.83 482.90,47.16" fill="none" stroke="#b01f2e" stroke-width="1.35" stroke-linejoin="round"/>
<line x1="401.90" y1="118.66" x2="401.90" y2="121.12" stroke="#b01f2e" stroke-width="1.1"/>
<line x1="399.50" y1="118.66" x2="404.30" y2="118.66" stroke="#b01f2e" stroke-width="1.1"/>
<line x1="399.50" y1="121.12" x2="404.30" y2="121.12" stroke="#b01f2e" stroke-width="1.1"/>
<line x1="426.20" y1="108.36" x2="426.20" y2="115.12" stroke="#b01f2e" stroke-width="1.1"/>
<line x1="423.80" y1="108.36" x2="428.60" y2="108.36" stroke="#b01f2e" stroke-width="1.1"/>
<line x1="423.80" y1="115.12" x2="428.60" y2="115.12" stroke="#b01f2e" stroke-width="1.1"/>
<line x1="450.50" y1="76.07" x2="450.50" y2="97.59" stroke="#b01f2e" stroke-width="1.1"/>
<line x1="448.10" y1="76.07" x2="452.90" y2="76.07" stroke="#b01f2e" stroke-width="1.1"/>
<line x1="448.10" y1="97.59" x2="452.90" y2="97.59" stroke="#b01f2e" stroke-width="1.1"/>
<line x1="482.90" y1="28.71" x2="482.90" y2="65.61" stroke="#b01f2e" stroke-width="1.1"/>
<line x1="480.50" y1="28.71" x2="485.30" y2="28.71" stroke="#b01f2e" stroke-width="1.1"/>
<line x1="480.50" y1="65.61" x2="485.30" y2="65.61" stroke="#b01f2e" stroke-width="1.1"/>
<rect x="391.50" y="122.20" width="4.60" height="4.60" fill="#b01f2e" />
<rect x="399.60" y="117.59" width="4.60" height="4.60" fill="#b01f2e" />
<rect x="423.90" y="109.44" width="4.60" height="4.60" fill="#b01f2e" />
<rect x="448.20" y="84.53" width="4.60" height="4.60" fill="#b01f2e" />
<rect x="480.60" y="44.86" width="4.60" height="4.60" fill="#b01f2e" />
<line x1="393.70" y1="24.50" x2="393.70" y2="125.20" stroke="#111" stroke-width="1.4"/>
<line x1="391.00" y1="124.70" x2="496.00" y2="124.70" stroke="#111" stroke-width="1.4"/>
<line x1="390.60" y1="124.50" x2="393.70" y2="124.50" stroke="#111" stroke-width="1.2"/>
<text x="390.00" y="127.90" font-size="9.6" text-anchor="end" fill="#222" stroke="#222" stroke-width="0.3">0</text>
<line x1="390.60" y1="93.75" x2="393.70" y2="93.75" stroke="#111" stroke-width="1.2"/>
<text x="390.00" y="97.15" font-size="9.6" text-anchor="end" fill="#222" stroke="#222" stroke-width="0.3">20</text>
<line x1="390.60" y1="63.00" x2="393.70" y2="63.00" stroke="#111" stroke-width="1.2"/>
<text x="390.00" y="66.40" font-size="9.6" text-anchor="end" fill="#222" stroke="#222" stroke-width="0.3">40</text>
<line x1="390.60" y1="32.25" x2="393.70" y2="32.25" stroke="#111" stroke-width="1.2"/>
<text x="390.00" y="35.65" font-size="9.6" text-anchor="end" fill="#222" stroke="#222" stroke-width="0.3">60</text>
<line x1="393.80" y1="124.50" x2="393.80" y2="127.80" stroke="#111" stroke-width="1.2"/>
<text x="393.80" y="137.20" font-size="9.6" text-anchor="middle" fill="#222" stroke="#222" stroke-width="0.3">0</text>
<line x1="414.05" y1="124.50" x2="414.05" y2="127.80" stroke="#111" stroke-width="1.2"/>
<text x="414.05" y="137.20" font-size="9.6" text-anchor="middle" fill="#222" stroke="#222" stroke-width="0.3">5</text>
<line x1="434.30" y1="124.50" x2="434.30" y2="127.80" stroke="#111" stroke-width="1.2"/>
<text x="434.30" y="137.20" font-size="9.6" text-anchor="middle" fill="#222" stroke="#222" stroke-width="0.3">10</text>
<line x1="454.55" y1="124.50" x2="454.55" y2="127.80" stroke="#111" stroke-width="1.2"/>
<text x="454.55" y="137.20" font-size="9.6" text-anchor="middle" fill="#222" stroke="#222" stroke-width="0.3">15</text>
<line x1="474.80" y1="124.50" x2="474.80" y2="127.80" stroke="#111" stroke-width="1.2"/>
<text x="474.80" y="137.20" font-size="9.6" text-anchor="middle" fill="#222" stroke="#222" stroke-width="0.3">20</text>
<line x1="495.05" y1="124.50" x2="495.05" y2="127.80" stroke="#111" stroke-width="1.2"/>
<text x="495.05" y="137.20" font-size="9.6" text-anchor="middle" fill="#222" stroke="#222" stroke-width="0.3">25</text>
<text x="450.20" y="148.80" font-size="8.7" text-anchor="middle" fill="#262626" stroke="#262626" stroke-width="0.3">Time (d)</text>
<text x="377.40" y="78.70" font-size="9" text-anchor="middle" fill="#262626" stroke="#262626" stroke-width="0.3" transform="rotate(-90 377.40 78.70)">% Conluence</text>
<text x="455.00" y="6.90" font-size="9.6" text-anchor="middle" fill="#222" stroke="#222" stroke-width="0.3">MCF-7</text>
<rect x="396.30" y="8.50" width="123.20" height="40.30" fill="#fff" stroke="#111" stroke-width="1.1" />
<line x1="400.00" y1="17.00" x2="411.00" y2="17.00" stroke="#b01f2e" stroke-width="1.2"/>
<rect x="403.40" y="14.90" width="4.20" height="4.20" fill="#b01f2e" />
<text x="413.00" y="19.10" font-size="7.55" fill="#222" stroke="#222" stroke-width="0.3">HD + Metformin</text>
<line x1="400.00" y1="24.40" x2="411.00" y2="24.40" stroke="#3b4a9f" stroke-width="1.2"/>
<circle cx="405.5" cy="24.4" r="2.1" fill="#3b4a9f"/>
<text x="413.00" y="26.50" font-size="7.55" fill="#222" stroke="#222" stroke-width="0.3">HD+ ETO + Metformin</text>
<line x1="400.00" y1="32.60" x2="411.00" y2="32.60" stroke="#2f9a48" stroke-width="1.2"/>
<polygon points="405.5,30.3 403.2,34.300000000000004 407.8,34.300000000000004" fill="#2f9a48"/>
<text x="413.00" y="34.70" font-size="7.55" fill="#222" stroke="#222" stroke-width="0.3">HD+ ETO</text>
<line x1="400.00" y1="41.30" x2="411.00" y2="41.30" stroke="#111" stroke-width="1.2"/>
<circle cx="405.5" cy="41.3" r="2.1" fill="#111"/>
<text x="413.00" y="43.40" font-size="7.55" fill="#222" stroke="#222" stroke-width="0.3">HD</text>
<line x1="482.90" y1="28.71" x2="482.90" y2="65.61" stroke="#b01f2e" stroke-width="1.1"/>
<line x1="480.50" y1="28.71" x2="485.30" y2="28.71" stroke="#b01f2e" stroke-width="1.1"/>
<line x1="480.50" y1="65.61" x2="485.30" y2="65.61" stroke="#b01f2e" stroke-width="1.1"/>
<rect x="480.60" y="44.86" width="4.60" height="4.60" fill="#b01f2e" />
<polyline points="493.00,43.00 498.00,43.00 498.00,82.60 494.50,82.60" fill="none" stroke="#222" stroke-width="1.25"/>
<polyline points="494.50,85.60 498.00,85.60 498.00,97.20 494.50,97.20" fill="none" stroke="#222" stroke-width="1.25"/>
<polyline points="510.60,42.00 514.40,42.00 514.40,99.20 510.60,99.20" fill="none" stroke="#222" stroke-width="1.25"/>
<circle cx="501.3" cy="65.5" r="1.05" fill="#111"/><circle cx="518" cy="68" r="1.05" fill="#111"/>
<text x="499.60" y="85.80" font-size="7.8" fill="#262626" stroke="#262626" stroke-width="0.3" transform="rotate(90 499.60 85.80)">n.s</text>
<polyline points="396.20,264.66 416.50,263.62 444.92,263.20 477.40,260.49" fill="none" stroke="#2f9a48" stroke-width="1.35" stroke-linejoin="round"/>
<line x1="444.92" y1="259.03" x2="444.92" y2="265.28" stroke="#2f9a48" stroke-width="1.1"/>
<line x1="442.52" y1="259.03" x2="447.32" y2="259.03" stroke="#2f9a48" stroke-width="1.1"/>
<line x1="442.52" y1="265.28" x2="447.32" y2="265.28" stroke="#2f9a48" stroke-width="1.1"/>
<line x1="477.40" y1="252.15" x2="477.40" y2="265.07" stroke="#2f9a48" stroke-width="1.1"/>
<line x1="475.00" y1="252.15" x2="479.80" y2="252.15" stroke="#2f9a48" stroke-width="1.1"/>
<line x1="475.00" y1="265.07" x2="479.80" y2="265.07" stroke="#2f9a48" stroke-width="1.1"/>
<polygon points="396.20,262.36 394.00,266.26 398.40,266.26" fill="#2f9a48"/>
<polygon points="416.50,261.32 414.30,265.21 418.70,265.21" fill="#2f9a48"/>
<polygon points="444.92,260.90 442.72,264.80 447.12,264.80" fill="#2f9a48"/>
<polygon points="477.40,258.19 475.20,262.09 479.60,262.09" fill="#2f9a48"/>
<polyline points="396.20,264.66 416.50,263.20 444.92,259.03 477.40,265.49" fill="none" stroke="#3b4a9f" stroke-width="1.35" stroke-linejoin="round"/>
<line x1="444.92" y1="252.77" x2="444.92" y2="265.28" stroke="#3b4a9f" stroke-width="1.1"/>
<line x1="442.52" y1="252.77" x2="447.32" y2="252.77" stroke="#3b4a9f" stroke-width="1.1"/>
<line x1="442.52" y1="265.28" x2="447.32" y2="265.28" stroke="#3b4a9f" stroke-width="1.1"/>
<circle cx="396.20" cy="264.66" r="2.1" fill="#3b4a9f"/>
<circle cx="416.50" cy="263.20" r="2.1" fill="#3b4a9f"/>
<circle cx="444.92" cy="259.03" r="2.1" fill="#3b4a9f"/>
<circle cx="477.40" cy="265.49" r="2.1" fill="#3b4a9f"/>
<polyline points="396.20,265.07 416.50,264.03 444.92,258.40 477.40,247.35" fill="none" stroke="#111" stroke-width="1.35" stroke-linejoin="round"/>
<line x1="444.92" y1="252.98" x2="444.92" y2="263.82" stroke="#111" stroke-width="1.1"/>
<line x1="442.52" y1="252.98" x2="447.32" y2="252.98" stroke="#111" stroke-width="1.1"/>
<line x1="442.52" y1="263.82" x2="447.32" y2="263.82" stroke="#111" stroke-width="1.1"/>
<line x1="477.40" y1="229.21" x2="477.40" y2="265.49" stroke="#111" stroke-width="1.1"/>
<line x1="475.00" y1="229.21" x2="479.80" y2="229.21" stroke="#111" stroke-width="1.1"/>
<line x1="475.00" y1="265.49" x2="479.80" y2="265.49" stroke="#111" stroke-width="1.1"/>
<circle cx="396.20" cy="265.07" r="2.3" fill="#111"/>
<circle cx="416.50" cy="264.03" r="2.3" fill="#111"/>
<circle cx="444.92" cy="258.40" r="2.3" fill="#111"/>
<circle cx="477.40" cy="247.35" r="2.3" fill="#111"/>
<polyline points="396.20,263.82 416.50,260.28 444.92,212.53 477.40,185.64" fill="none" stroke="#b01f2e" stroke-width="1.35" stroke-linejoin="round"/>
<line x1="396.20" y1="262.16" x2="396.20" y2="265.49" stroke="#b01f2e" stroke-width="1.1"/>
<line x1="393.80" y1="262.16" x2="398.60" y2="262.16" stroke="#b01f2e" stroke-width="1.1"/>
<line x1="393.80" y1="265.49" x2="398.60" y2="265.49" stroke="#b01f2e" stroke-width="1.1"/>
<line x1="416.50" y1="258.61" x2="416.50" y2="261.95" stroke="#b01f2e" stroke-width="1.1"/>
<line x1="414.10" y1="258.61" x2="418.90" y2="258.61" stroke="#b01f2e" stroke-width="1.1"/>
<line x1="414.10" y1="261.95" x2="418.90" y2="261.95" stroke="#b01f2e" stroke-width="1.1"/>
<line x1="444.92" y1="202.94" x2="444.92" y2="222.12" stroke="#b01f2e" stroke-width="1.1"/>
<line x1="442.52" y1="202.94" x2="447.32" y2="202.94" stroke="#b01f2e" stroke-width="1.1"/>
<line x1="442.52" y1="222.12" x2="447.32" y2="222.12" stroke="#b01f2e" stroke-width="1.1"/>
<line x1="477.40" y1="176.25" x2="477.40" y2="195.02" stroke="#b01f2e" stroke-width="1.1"/>
<line x1="475.00" y1="176.25" x2="479.80" y2="176.25" stroke="#b01f2e" stroke-width="1.1"/>
<line x1="475.00" y1="195.02" x2="479.80" y2="195.02" stroke="#b01f2e" stroke-width="1.1"/>
<rect x="393.80" y="261.42" width="4.80" height="4.80" fill="#b01f2e" />
<rect x="414.10" y="257.88" width="4.80" height="4.80" fill="#b01f2e" />
<rect x="442.52" y="210.13" width="4.80" height="4.80" fill="#b01f2e" />
<rect x="475.00" y="183.24" width="4.80" height="4.80" fill="#b01f2e" />
<line x1="393.20" y1="161.00" x2="393.20" y2="262.00" stroke="#111" stroke-width="1.4"/>
<line x1="392.50" y1="265.80" x2="498.50" y2="265.80" stroke="#111" stroke-width="1.4"/>
<line x1="390.20" y1="244.85" x2="393.20" y2="244.85" stroke="#111" stroke-width="1.2"/>
<text x="388.80" y="248.15" font-size="9.2" text-anchor="end" fill="#222" stroke="#222" stroke-width="0.3">10</text>
<line x1="390.20" y1="224.00" x2="393.20" y2="224.00" stroke="#111" stroke-width="1.2"/>
<text x="388.80" y="227.30" font-size="9.2" text-anchor="end" fill="#222" stroke="#222" stroke-width="0.3">20</text>
<line x1="390.20" y1="203.15" x2="393.20" y2="203.15" stroke="#111" stroke-width="1.2"/>
<text x="388.80" y="206.45" font-size="9.2" text-anchor="end" fill="#222" stroke="#222" stroke-width="0.3">30</text>
<line x1="390.20" y1="182.30" x2="393.20" y2="182.30" stroke="#111" stroke-width="1.2"/>
<text x="388.80" y="185.60" font-size="9.2" text-anchor="end" fill="#222" stroke="#222" stroke-width="0.3">40</text>
<line x1="390.20" y1="161.45" x2="393.20" y2="161.45" stroke="#111" stroke-width="1.2"/>
<text x="388.80" y="164.75" font-size="9.2" text-anchor="end" fill="#222" stroke="#222" stroke-width="0.3">50</text>
<text x="388.80" y="263.30" font-size="9.2" text-anchor="end" fill="#222" stroke="#222" stroke-width="0.3">0</text>
<line x1="396.20" y1="265.80" x2="396.20" y2="268.80" stroke="#111" stroke-width="1.2"/>
<text x="395.60" y="277.80" font-size="9.6" text-anchor="middle" fill="#222" stroke="#222" stroke-width="0.3">0</text>
<line x1="416.50" y1="265.80" x2="416.50" y2="268.80" stroke="#111" stroke-width="1.2"/>
<text x="415.90" y="277.80" font-size="9.6" text-anchor="middle" fill="#222" stroke="#222" stroke-width="0.3">5</text>
<line x1="436.80" y1="265.80" x2="436.80" y2="268.80" stroke="#111" stroke-width="1.2"/>
<text x="436.20" y="277.80" font-size="9.6" text-anchor="middle" fill="#222" stroke="#222" stroke-width="0.3">10</text>
<line x1="457.10" y1="265.80" x2="457.10" y2="268.80" stroke="#111" stroke-width="1.2"/>
<text x="456.50" y="277.80" font-size="9.6" text-anchor="middle" fill="#222" stroke="#222" stroke-width="0.3">15</text>
<line x1="477.40" y1="265.80" x2="477.40" y2="268.80" stroke="#111" stroke-width="1.2"/>
<text x="476.80" y="277.80" font-size="9.6" text-anchor="middle" fill="#222" stroke="#222" stroke-width="0.3">20</text>
<line x1="497.70" y1="265.80" x2="497.70" y2="268.80" stroke="#111" stroke-width="1.2"/>
<text x="497.10" y="277.80" font-size="9.6" text-anchor="middle" fill="#222" stroke="#222" stroke-width="0.3">25</text>
<text x="450.20" y="289.00" font-size="8.7" text-anchor="middle" fill="#262626" stroke="#262626" stroke-width="0.3">Time (d)</text>
<text x="375.80" y="214.50" font-size="8.0" text-anchor="middle" fill="#262626" stroke="#262626" stroke-width="0.3" transform="rotate(-90 375.80 214.50)">% Confluence</text>
<text x="452.00" y="165.90" font-size="9.7" text-anchor="middle" fill="#222" stroke="#222" stroke-width="0.3">HCC-1428</text>
<polyline points="483.50,185.00 488.00,185.00 488.00,246.00 485.00,246.00" fill="none" stroke="#222" stroke-width="1.25"/>
<polyline points="485.00,248.60 488.30,248.60 488.30,263.80 485.00,263.80" fill="none" stroke="#222" stroke-width="1.25"/>
<polyline points="495.70,182.00 499.60,182.00 499.60,263.80 495.70,263.80" fill="none" stroke="#222" stroke-width="1.25"/>
<circle cx="491" cy="219.5" r="1.05" fill="#111"/><circle cx="504.3" cy="220.3" r="1.05" fill="#111"/>
<text x="489.60" y="250.00" font-size="7.8" fill="#262626" stroke="#262626" stroke-width="0.3" transform="rotate(90 489.60 250.00)">n.s</text>
</g>
<g id="panelC">
<text x="1.30" y="338.40" font-size="15.5" fill="#000" stroke="#000" stroke-width="0.15" font-weight="bold">C</text>
<polyline points="29.60,440.50 37.68,438.42 61.92,434.52 86.16,429.58 118.48,409.04" fill="none" stroke="#3b4a9f" stroke-width="1.7" stroke-linejoin="round"/>
<line x1="37.68" y1="437.25" x2="37.68" y2="439.59" stroke="#3b4a9f" stroke-width="1.1"/>
<line x1="35.28" y1="437.25" x2="40.08" y2="437.25" stroke="#3b4a9f" stroke-width="1.1"/>
<line x1="35.28" y1="439.59" x2="40.08" y2="439.59" stroke="#3b4a9f" stroke-width="1.1"/>
<line x1="61.92" y1="433.22" x2="61.92" y2="435.82" stroke="#3b4a9f" stroke-width="1.1"/>
<line x1="59.52" y1="433.22" x2="64.32" y2="433.22" stroke="#3b4a9f" stroke-width="1.1"/>
<line x1="59.52" y1="435.82" x2="64.32" y2="435.82" stroke="#3b4a9f" stroke-width="1.1"/>
<line x1="86.16" y1="428.28" x2="86.16" y2="430.88" stroke="#3b4a9f" stroke-width="1.1"/>
<line x1="83.76" y1="428.28" x2="88.56" y2="428.28" stroke="#3b4a9f" stroke-width="1.1"/>
<line x1="83.76" y1="430.88" x2="88.56" y2="430.88" stroke="#3b4a9f" stroke-width="1.1"/>
<line x1="118.48" y1="404.49" x2="118.48" y2="413.59" stroke="#3b4a9f" stroke-width="1.1"/>
<line x1="116.08" y1="404.49" x2="120.88" y2="404.49" stroke="#3b4a9f" stroke-width="1.1"/>
<line x1="116.08" y1="413.59" x2="120.88" y2="413.59" stroke="#3b4a9f" stroke-width="1.1"/>
<circle cx="29.60" cy="440.50" r="2.0" fill="#3b4a9f"/>
<circle cx="37.68" cy="438.42" r="2.0" fill="#3b4a9f"/>
<circle cx="61.92" cy="434.52" r="2.0" fill="#3b4a9f"/>
<circle cx="86.16" cy="429.58" r="2.0" fill="#3b4a9f"/>
<circle cx="118.48" cy="409.04" r="2.0" fill="#3b4a9f"/>
<polyline points="29.60,440.50 37.68,438.68 61.92,433.74 86.16,407.61 118.48,356.91" fill="none" stroke="#b01f2e" stroke-width="1.7" stroke-linejoin="round"/>
<line x1="61.92" y1="431.92" x2="61.92" y2="435.56" stroke="#b01f2e" stroke-width="1.1"/>
<line x1="59.52" y1="431.92" x2="64.32" y2="431.92" stroke="#b01f2e" stroke-width="1.1"/>
<line x1="59.52" y1="435.56" x2="64.32" y2="435.56" stroke="#b01f2e" stroke-width="1.1"/>
<line x1="86.16" y1="399.16" x2="86.16" y2="416.06" stroke="#b01f2e" stroke-width="1.1"/>
<line x1="83.76" y1="399.16" x2="88.56" y2="399.16" stroke="#b01f2e" stroke-width="1.1"/>
<line x1="83.76" y1="416.06" x2="88.56" y2="416.06" stroke="#b01f2e" stroke-width="1.1"/>
<line x1="118.48" y1="346.77" x2="118.48" y2="367.05" stroke="#b01f2e" stroke-width="1.1"/>
<line x1="116.08" y1="346.77" x2="120.88" y2="346.77" stroke="#b01f2e" stroke-width="1.1"/>
<line x1="116.08" y1="367.05" x2="120.88" y2="367.05" stroke="#b01f2e" stroke-width="1.1"/>
<polygon points="29.60,438.00 27.20,442.30 32.00,442.30" fill="#b01f2e"/>
<polygon points="37.68,436.18 35.28,440.48 40.08,440.48" fill="#b01f2e"/>
<polygon points="61.92,431.24 59.52,435.54 64.32,435.54" fill="#b01f2e"/>
<polygon points="86.16,405.11 83.76,409.41 88.56,409.41" fill="#b01f2e"/>
<polygon points="118.48,354.41 116.08,358.71 120.88,358.71" fill="#b01f2e"/>
<circle cx="29.60" cy="440.50" r="2" fill="#111"/>
<line x1="32.00" y1="355.00" x2="32.00" y2="441.40" stroke="#111" stroke-width="1.5"/>
<line x1="29.60" y1="440.70" x2="131.20" y2="440.70" stroke="#111" stroke-width="1.4"/>
<line x1="28.80" y1="440.50" x2="31.80" y2="440.50" stroke="#111" stroke-width="1.2"/>
<text x="27.20" y="443.80" font-size="9.5" text-anchor="end" fill="#222" stroke="#222" stroke-width="0.3">0</text>
<line x1="28.80" y1="414.50" x2="31.80" y2="414.50" stroke="#111" stroke-width="1.2"/>
<text x="27.20" y="417.80" font-size="9.5" text-anchor="end" fill="#222" stroke="#222" stroke-width="0.3">20</text>
<line x1="28.80" y1="388.50" x2="31.80" y2="388.50" stroke="#111" stroke-width="1.2"/>
<text x="27.20" y="391.80" font-size="9.5" text-anchor="end" fill="#222" stroke="#222" stroke-width="0.3">40</text>
<line x1="28.80" y1="362.50" x2="31.80" y2="362.50" stroke="#111" stroke-width="1.2"/>
<text x="27.20" y="365.80" font-size="9.5" text-anchor="end" fill="#222" stroke="#222" stroke-width="0.3">60</text>
<line x1="29.60" y1="440.70" x2="29.60" y2="443.70" stroke="#111" stroke-width="1.2"/>
<text x="29.30" y="454.00" font-size="9.6" text-anchor="middle" fill="#222" stroke="#222" stroke-width="0.3">0</text>
<line x1="49.80" y1="440.70" x2="49.80" y2="443.70" stroke="#111" stroke-width="1.2"/>
<text x="49.50" y="454.00" font-size="9.6" text-anchor="middle" fill="#222" stroke="#222" stroke-width="0.3">5</text>
<line x1="70.00" y1="440.70" x2="70.00" y2="443.70" stroke="#111" stroke-width="1.2"/>
<text x="69.70" y="454.00" font-size="9.6" text-anchor="middle" fill="#222" stroke="#222" stroke-width="0.3">10</text>
<line x1="90.20" y1="440.70" x2="90.20" y2="443.70" stroke="#111" stroke-width="1.2"/>
<text x="89.90" y="454.00" font-size="9.6" text-anchor="middle" fill="#222" stroke="#222" stroke-width="0.3">15</text>
<line x1="110.40" y1="440.70" x2="110.40" y2="443.70" stroke="#111" stroke-width="1.2"/>
<text x="110.10" y="454.00" font-size="9.6" text-anchor="middle" fill="#222" stroke="#222" stroke-width="0.3">20</text>
<line x1="130.60" y1="440.70" x2="130.60" y2="443.70" stroke="#111" stroke-width="1.2"/>
<text x="130.30" y="454.00" font-size="9.6" text-anchor="middle" fill="#222" stroke="#222" stroke-width="0.3">25</text>
<text x="83.50" y="464.30" font-size="9.4" text-anchor="middle" fill="#262626" stroke="#262626" stroke-width="0.3">Time (d)</text>
<text x="10.60" y="394.70" font-size="9.6" text-anchor="middle" fill="#262626" stroke="#262626" stroke-width="0.3" transform="rotate(-90 10.60 394.70)">% Confluence</text>
<rect x="33.00" y="334.80" width="72.80" height="20.20" fill="#fff" stroke="#111" stroke-width="1.1" />
<line x1="35.50" y1="340.80" x2="45.50" y2="340.80" stroke="#b01f2e" stroke-width="1.2"/>
<polygon points="40.2,338.6 38,342.6 42.4,342.6" fill="#b01f2e"/>
<text x="47.80" y="343.00" font-size="8.0" fill="#222" stroke="#222" stroke-width="0.3">HD + Oleic acid</text>
<line x1="35.50" y1="350.00" x2="45.50" y2="350.00" stroke="#3b4a9f" stroke-width="1.2"/>
<circle cx="40.2" cy="350" r="2" fill="#3b4a9f"/>
<text x="47.80" y="352.50" font-size="8.0" fill="#222" stroke="#222" stroke-width="0.3">HD</text>
<polyline points="123.00,359.00 126.60,359.00 126.60,408.90 123.00,408.90" fill="none" stroke="#222" stroke-width="1.25"/>
<circle cx="130.4" cy="383.3" r="1.05" fill="#111"/>
</g>
<g id="panelD">
<text x="142.30" y="338.30" font-size="15.5" fill="#000" stroke="#000" stroke-width="0.15" font-weight="bold">D</text>
<text x="212.50" y="344.30" font-size="9.5" text-anchor="middle" fill="#222" stroke="#222" stroke-width="0.3">Basal OCR</text>
<line x1="188.30" y1="412.27" x2="188.30" y2="415.16" stroke="#111" stroke-width="1.4"/>
<line x1="185.50" y1="412.27" x2="191.10" y2="412.27" stroke="#111" stroke-width="1.4"/>
<rect x="183.30" y="415.16" width="10.00" height="25.84" fill="#7b3f98" stroke="#4a1f63" stroke-width="1" />
<line x1="202.05" y1="391.30" x2="202.05" y2="395.47" stroke="#111" stroke-width="1.4"/>
<line x1="199.25" y1="391.30" x2="204.85" y2="391.30" stroke="#111" stroke-width="1.4"/>
<rect x="196.90" y="395.47" width="10.30" height="45.53" fill="url(#hPurpleD)" stroke="#111" stroke-width="1" />
<line x1="215.85" y1="381.36" x2="215.85" y2="382.13" stroke="#111" stroke-width="1.4"/>
<line x1="213.05" y1="381.36" x2="218.65" y2="381.36" stroke="#111" stroke-width="1.4"/>
<rect x="210.80" y="382.13" width="10.10" height="58.87" fill="#c8a2d6" stroke="#111" stroke-width="1" />
<line x1="229.50" y1="375.59" x2="229.50" y2="379.11" stroke="#111" stroke-width="1.4"/>
<line x1="226.70" y1="375.59" x2="232.30" y2="375.59" stroke="#111" stroke-width="1.4"/>
<rect x="224.50" y="379.11" width="10.00" height="61.89" fill="url(#hPurpleL)" stroke="#111" stroke-width="1" />
<line x1="176.40" y1="344.60" x2="176.40" y2="441.70" stroke="#111" stroke-width="1.4"/>
<line x1="175.70" y1="441.00" x2="240.30" y2="441.00" stroke="#111" stroke-width="1.4"/>
<line x1="173.20" y1="441.00" x2="176.40" y2="441.00" stroke="#111" stroke-width="1.2"/>
<text x="172.60" y="444.00" font-size="8.8" text-anchor="end" fill="#222" stroke="#222" stroke-width="0.3">0</text>
<line x1="173.20" y1="408.94" x2="176.40" y2="408.94" stroke="#111" stroke-width="1.2"/>
<text x="172.60" y="411.94" font-size="8.8" text-anchor="end" fill="#222" stroke="#222" stroke-width="0.3">50</text>
<line x1="173.20" y1="376.87" x2="176.40" y2="376.87" stroke="#111" stroke-width="1.2"/>
<text x="172.60" y="379.87" font-size="8.8" text-anchor="end" fill="#222" stroke="#222" stroke-width="0.3">100</text>
<line x1="173.20" y1="344.81" x2="176.40" y2="344.81" stroke="#111" stroke-width="1.2"/>
<text x="172.60" y="347.81" font-size="8.8" text-anchor="end" fill="#222" stroke="#222" stroke-width="0.3">150</text>
<line x1="188.20" y1="441.00" x2="188.20" y2="444.20" stroke="#111" stroke-width="1.2"/>
<line x1="202.20" y1="441.00" x2="202.20" y2="444.20" stroke="#111" stroke-width="1.2"/>
<line x1="215.80" y1="441.00" x2="215.80" y2="444.20" stroke="#111" stroke-width="1.2"/>
<line x1="229.60" y1="441.00" x2="229.60" y2="444.20" stroke="#111" stroke-width="1.2"/>
<text x="196.30" y="452.60" font-size="9.4" text-anchor="middle" fill="#222" stroke="#222" stroke-width="0.3">0</text>
<text x="221.00" y="452.60" font-size="9.4" text-anchor="middle" fill="#222" stroke="#222" stroke-width="0.3">15</text>
<text x="208.00" y="464.30" font-size="9.7" text-anchor="middle" fill="#262626" stroke="#262626" stroke-width="0.3">Time (d) of HD</text>
<text x="153.00" y="390.00" font-size="8.8" text-anchor="middle" fill="#262626" stroke="#262626" stroke-width="0.3" transform="rotate(-90 153.00 390.00)">OCR (pmol/min)</text>
<line x1="185.00" y1="363.80" x2="213.80" y2="363.80" stroke="#1a1a1a" stroke-width="1.6"/>
<circle cx="200.20" cy="359.90" r="1.05" fill="#111"/>
<line x1="185.00" y1="382.50" x2="205.00" y2="382.50" stroke="#1a1a1a" stroke-width="1.5"/>
<circle cx="193.80" cy="378.60" r="1.05" fill="#111"/>
<line x1="217.00" y1="370.00" x2="230.40" y2="370.00" stroke="#1a1a1a" stroke-width="1.5"/>
<text x="223.60" y="368.30" font-size="8.2" text-anchor="middle" fill="#262626" stroke="#262626" stroke-width="0.3">n.s.</text>
</g>
<g id="panelE">
<text x="250.60" y="338.30" font-size="15.5" fill="#000" stroke="#000" stroke-width="0.15" font-weight="bold">E</text>
<text x="317.20" y="343.80" font-size="9.7" text-anchor="middle" fill="#222" stroke="#222" stroke-width="0.3">Spare capacity</text>
<line x1="288.70" y1="407.79" x2="288.70" y2="411.18" stroke="#111" stroke-width="1.4"/>
<line x1="285.90" y1="407.79" x2="291.50" y2="407.79" stroke="#111" stroke-width="1.4"/>
<rect x="283.30" y="411.18" width="10.80" height="31.22" fill="#f26a2a" stroke="#111" stroke-width="1" />
<line x1="301.95" y1="371.25" x2="301.95" y2="392.79" stroke="#111" stroke-width="1.4"/>
<line x1="299.15" y1="371.25" x2="304.75" y2="371.25" stroke="#111" stroke-width="1.4"/>
<rect x="296.80" y="392.79" width="10.30" height="49.61" fill="url(#hOrangeD)" stroke="#111" stroke-width="1" />
<line x1="315.25" y1="429.94" x2="315.25" y2="440.22" stroke="#111" stroke-width="1.4"/>
<line x1="312.45" y1="429.94" x2="318.05" y2="429.94" stroke="#111" stroke-width="1.4"/>
<rect x="310.30" y="440.22" width="9.90" height="2.18" fill="#f9cdb8" stroke="#6b3a25" stroke-width="1" />
<line x1="328.80" y1="377.06" x2="328.80" y2="423.04" stroke="#111" stroke-width="1.4"/>
<line x1="326.00" y1="377.06" x2="331.60" y2="377.06" stroke="#111" stroke-width="1.4"/>
<rect x="323.50" y="423.04" width="10.60" height="19.36" fill="url(#hOrangeL)" stroke="#111" stroke-width="1" />
<line x1="276.80" y1="345.30" x2="276.80" y2="443.10" stroke="#111" stroke-width="1.4"/>
<line x1="273.60" y1="442.40" x2="340.20" y2="442.40" stroke="#111" stroke-width="1.4"/>
<line x1="273.60" y1="442.40" x2="276.80" y2="442.40" stroke="#111" stroke-width="1.2"/>
<text x="271.20" y="446.10" font-size="10.4" text-anchor="end" fill="#222" stroke="#222" stroke-width="0.3">0</text>
<line x1="273.60" y1="418.20" x2="276.80" y2="418.20" stroke="#111" stroke-width="1.2"/>
<text x="271.20" y="421.90" font-size="10.4" text-anchor="end" fill="#222" stroke="#222" stroke-width="0.3">20</text>
<line x1="273.60" y1="394.00" x2="276.80" y2="394.00" stroke="#111" stroke-width="1.2"/>
<text x="271.20" y="397.70" font-size="10.4" text-anchor="end" fill="#222" stroke="#222" stroke-width="0.3">40</text>
<line x1="273.60" y1="369.80" x2="276.80" y2="369.80" stroke="#111" stroke-width="1.2"/>
<text x="271.20" y="373.50" font-size="10.4" text-anchor="end" fill="#222" stroke="#222" stroke-width="0.3">60</text>
<line x1="273.60" y1="345.60" x2="276.80" y2="345.60" stroke="#111" stroke-width="1.2"/>
<text x="271.20" y="349.30" font-size="10.4" text-anchor="end" fill="#222" stroke="#222" stroke-width="0.3">80</text>
<line x1="288.50" y1="442.40" x2="288.50" y2="445.60" stroke="#111" stroke-width="1.2"/>
<line x1="301.80" y1="442.40" x2="301.80" y2="445.60" stroke="#111" stroke-width="1.2"/>
<line x1="315.20" y1="442.40" x2="315.20" y2="445.60" stroke="#111" stroke-width="1.2"/>
<line x1="329.00" y1="442.40" x2="329.00" y2="445.60" stroke="#111" stroke-width="1.2"/>
<text x="296.30" y="454.30" font-size="10" text-anchor="middle" fill="#222" stroke="#222" stroke-width="0.3">0</text>
<text x="320.50" y="454.30" font-size="10" text-anchor="middle" fill="#222" stroke="#222" stroke-width="0.3">15</text>
<text x="308.50" y="464.30" font-size="9.7" text-anchor="middle" fill="#262626" stroke="#262626" stroke-width="0.3">Time (d) of HD</text>
<text x="256.40" y="392.00" font-size="8.8" text-anchor="middle" fill="#262626" stroke="#262626" stroke-width="0.3" transform="rotate(-90 256.40 392.00)">OCR (pmol/min)</text>
<line x1="285.00" y1="355.60" x2="318.80" y2="355.60" stroke="#1a1a1a" stroke-width="1.5"/>
<text x="302.20" y="353.90" font-size="8.2" text-anchor="middle" fill="#262626" stroke="#262626" stroke-width="0.3">n.s.</text>
<line x1="284.50" y1="366.30" x2="302.60" y2="366.30" stroke="#1a1a1a" stroke-width="1.5"/>
<text x="294.20" y="364.60" font-size="8.2" text-anchor="middle" fill="#262626" stroke="#262626" stroke-width="0.3">n.s.</text>
<line x1="313.80" y1="366.30" x2="330.20" y2="366.30" stroke="#1a1a1a" stroke-width="1.5"/>
<text x="321.60" y="364.60" font-size="8.2" text-anchor="middle" fill="#262626" stroke="#262626" stroke-width="0.3">n.s.</text>
</g>
<g id="panelF">
<text x="357.00" y="338.30" font-size="15.5" fill="#000" stroke="#000" stroke-width="0.15" font-weight="bold">F</text>
<text x="422.00" y="343.80" font-size="9.7" text-anchor="middle" fill="#222" stroke="#222" stroke-width="0.3">ATP production</text>
<line x1="394.95" y1="402.55" x2="394.95" y2="405.25" stroke="#111" stroke-width="1.4"/>
<line x1="392.15" y1="402.55" x2="397.75" y2="402.55" stroke="#111" stroke-width="1.4"/>
<rect x="389.80" y="405.25" width="10.30" height="36.15" fill="#3cb04f" stroke="#1c6b2c" stroke-width="1" />
<line x1="407.80" y1="379.90" x2="407.80" y2="384.04" stroke="#111" stroke-width="1.4"/>
<line x1="405.00" y1="379.90" x2="410.60" y2="379.90" stroke="#111" stroke-width="1.4"/>
<rect x="402.90" y="384.04" width="9.80" height="57.36" fill="url(#hGreenD)" stroke="#111" stroke-width="1" />
<line x1="421.60" y1="359.46" x2="421.60" y2="364.28" stroke="#111" stroke-width="1.4"/>
<line x1="418.80" y1="359.46" x2="424.40" y2="359.46" stroke="#111" stroke-width="1.4"/>
<rect x="416.50" y="364.28" width="10.20" height="77.12" fill="#d3eac6" stroke="#111" stroke-width="1" />
<line x1="435.00" y1="356.66" x2="435.00" y2="360.91" stroke="#111" stroke-width="1.4"/>
<line x1="432.20" y1="356.66" x2="437.80" y2="356.66" stroke="#111" stroke-width="1.4"/>
<rect x="429.80" y="360.91" width="10.40" height="80.49" fill="url(#hGreenL)" stroke="#111" stroke-width="1" />
<line x1="382.60" y1="344.60" x2="382.60" y2="442.10" stroke="#111" stroke-width="1.4"/>
<line x1="381.90" y1="441.40" x2="447.60" y2="441.40" stroke="#111" stroke-width="1.4"/>
<line x1="379.40" y1="441.40" x2="382.60" y2="441.40" stroke="#111" stroke-width="1.2"/>
<text x="378.60" y="444.40" font-size="8.3" text-anchor="end" fill="#222" stroke="#222" stroke-width="0.3">0</text>
<line x1="379.40" y1="422.12" x2="382.60" y2="422.12" stroke="#111" stroke-width="1.2"/>
<text x="378.60" y="425.12" font-size="8.3" text-anchor="end" fill="#222" stroke="#222" stroke-width="0.3">20</text>
<line x1="379.40" y1="402.84" x2="382.60" y2="402.84" stroke="#111" stroke-width="1.2"/>
<text x="378.60" y="405.84" font-size="8.3" text-anchor="end" fill="#222" stroke="#222" stroke-width="0.3">40</text>
<line x1="379.40" y1="383.56" x2="382.60" y2="383.56" stroke="#111" stroke-width="1.2"/>
<text x="378.60" y="386.56" font-size="8.3" text-anchor="end" fill="#222" stroke="#222" stroke-width="0.3">60</text>
<line x1="379.40" y1="364.28" x2="382.60" y2="364.28" stroke="#111" stroke-width="1.2"/>
<text x="378.60" y="367.28" font-size="8.3" text-anchor="end" fill="#222" stroke="#222" stroke-width="0.3">80</text>
<line x1="379.40" y1="345.00" x2="382.60" y2="345.00" stroke="#111" stroke-width="1.2"/>
<text x="378.60" y="348.00" font-size="8.3" text-anchor="end" fill="#222" stroke="#222" stroke-width="0.3">100</text>
<line x1="400.90" y1="441.40" x2="400.90" y2="444.60" stroke="#111" stroke-width="1.2"/>
<line x1="428.10" y1="441.40" x2="428.10" y2="444.60" stroke="#111" stroke-width="1.2"/>
<text x="400.80" y="453.80" font-size="9.4" text-anchor="middle" fill="#222" stroke="#222" stroke-width="0.3">0</text>
<text x="425.80" y="453.80" font-size="9.4" text-anchor="middle" fill="#222" stroke="#222" stroke-width="0.3">15</text>
<text x="413.50" y="463.90" font-size="9.7" text-anchor="middle" fill="#262626" stroke="#262626" stroke-width="0.3">Time (d) of HD</text>
<text x="356.80" y="392.00" font-size="8.8" text-anchor="middle" fill="#262626" stroke="#262626" stroke-width="0.3" transform="rotate(-90 356.80 392.00)">OCR (pmol/min)</text>
<line x1="390.00" y1="356.80" x2="420.00" y2="356.80" stroke="#1a1a1a" stroke-width="1.6"/>
<circle cx="406.30" cy="352.90" r="1.05" fill="#111"/>
<line x1="390.00" y1="372.00" x2="407.50" y2="372.00" stroke="#1a1a1a" stroke-width="1.6"/>
<circle cx="398.30" cy="368.10" r="1.05" fill="#111"/>
<line x1="421.00" y1="353.00" x2="435.00" y2="353.00" stroke="#1a1a1a" stroke-width="1.5"/>
<text x="428.00" y="351.30" font-size="8.2" text-anchor="middle" fill="#262626" stroke="#262626" stroke-width="0.3">n.s.</text>
<rect x="448.80" y="383.80" width="65.00" height="25.70" fill="#fff" stroke="#111" stroke-width="1.1" />
<rect x="453.20" y="389.40" width="13.00" height="4.80" fill="#eef6e8" stroke="#111" stroke-width="1.1" />
<rect x="453.20" y="399.50" width="13.00" height="4.80" fill="url(#hLegend)" stroke="#111" stroke-width="1.1" />
<text x="469.50" y="395.00" font-size="8.9" fill="#222" stroke="#222" stroke-width="0.3">Control</text>
<text x="469.50" y="405.00" font-size="8.6" fill="#222" stroke="#222" stroke-width="0.3">Oleic acid</text>
</g>
<g id="panelG">
<text x="1.20" y="487.20" font-size="15.5" fill="#000" stroke="#000" stroke-width="0.15" font-weight="bold">G</text>
<text x="73.20" y="485.20" font-size="9.4" text-anchor="middle" fill="#222" stroke="#222" stroke-width="0.3">MCF-7</text>
<line x1="17.00" y1="488.90" x2="127.00" y2="488.90" stroke="#111" stroke-width="1.6"/>
<text x="24.30" y="501.90" font-size="9.5" text-anchor="middle" fill="#222" stroke="#222" stroke-width="0.3">0</text>
<text x="41.30" y="501.90" font-size="9.5" text-anchor="middle" fill="#222" stroke="#222" stroke-width="0.3">.02</text>
<text x="59.50" y="501.90" font-size="9.5" text-anchor="middle" fill="#222" stroke="#222" stroke-width="0.3">.2</text>
<text x="76.30" y="501.90" font-size="9.5" text-anchor="middle" fill="#222" stroke="#222" stroke-width="0.3">2</text>
<text x="93.00" y="501.90" font-size="9.5" text-anchor="middle" fill="#222" stroke="#222" stroke-width="0.3">20</text>
<text x="114.50" y="501.90" font-size="9.5" text-anchor="middle" fill="#222" stroke="#222" stroke-width="0.3">200</text>
<text x="132.50" y="499.60" font-size="7.5" fill="#262626" stroke="#262626" stroke-width="0.3">(µg/mL) Oleic acid</text>
<rect x="17.00" y="504.50" width="108.60" height="15.00" fill="#e4e4e4" />
<ellipse cx="36" cy="507.5" rx="12" ry="2.5" fill="#555" fill-opacity=".35" filter="url(#b3)"/>
<ellipse cx="114" cy="508" rx="5" ry="3" fill="#555" fill-opacity=".3" filter="url(#b3)"/>
<rect x="21.80" y="512.05" width="14.00" height="1.90" rx="0.95" fill="#1a1a1a" fill-opacity="0.30" filter="url(#b1)"/>
<rect x="40.00" y="512.05" width="14.00" height="1.90" rx="0.95" fill="#1a1a1a" fill-opacity="0.25" filter="url(#b1)"/>
<rect x="58.00" y="512.05" width="14.00" height="1.90" rx="0.95" fill="#1a1a1a" fill-opacity="0.25" filter="url(#b1)"/>
<rect x="75.50" y="512.05" width="14.00" height="1.90" rx="0.95" fill="#1a1a1a" fill-opacity="0.18" filter="url(#b1)"/>
<rect x="91.80" y="511.55" width="14.00" height="1.90" rx="0.95" fill="#1a1a1a" fill-opacity="0.65" filter="url(#b1)"/>
<rect x="109.30" y="511.55" width="14.00" height="1.90" rx="0.95" fill="#1a1a1a" fill-opacity="0.60" filter="url(#b1)"/>
<rect x="17.00" y="525.50" width="108.60" height="12.50" fill="#cdcdcd" />
<rect x="20.30" y="528.20" width="17.00" height="5.20" rx="2.60" fill="#1a1a1a" fill-opacity="1.00" filter="url(#b1)"/>
<rect x="21.80" y="533.00" width="14.00" height="3.00" rx="1.50" fill="#1a1a1a" fill-opacity="0.25" filter="url(#b2)"/>
<rect x="38.50" y="528.20" width="17.00" height="5.20" rx="2.60" fill="#1a1a1a" fill-opacity="1.00" filter="url(#b1)"/>
<rect x="40.00" y="533.00" width="14.00" height="3.00" rx="1.50" fill="#1a1a1a" fill-opacity="0.25" filter="url(#b2)"/>
<rect x="56.50" y="528.20" width="17.00" height="5.20" rx="2.60" fill="#1a1a1a" fill-opacity="1.00" filter="url(#b1)"/>
<rect x="58.00" y="533.00" width="14.00" height="3.00" rx="1.50" fill="#1a1a1a" fill-opacity="0.25" filter="url(#b2)"/>
<rect x="74.00" y="528.20" width="17.00" height="5.20" rx="2.60" fill="#1a1a1a" fill-opacity="1.00" filter="url(#b1)"/>
<rect x="75.50" y="533.00" width="14.00" height="3.00" rx="1.50" fill="#1a1a1a" fill-opacity="0.25" filter="url(#b2)"/>
<rect x="90.30" y="528.20" width="17.00" height="5.20" rx="2.60" fill="#1a1a1a" fill-opacity="1.00" filter="url(#b1)"/>
<rect x="91.80" y="533.00" width="14.00" height="3.00" rx="1.50" fill="#1a1a1a" fill-opacity="0.25" filter="url(#b2)"/>
<rect x="107.80" y="528.20" width="17.00" height="5.20" rx="2.60" fill="#1a1a1a" fill-opacity="1.00" filter="url(#b1)"/>
<rect x="109.30" y="533.00" width="14.00" height="3.00" rx="1.50" fill="#1a1a1a" fill-opacity="0.25" filter="url(#b2)"/>
<rect x="17.00" y="542.50" width="108.60" height="18.80" fill="#ececec" />
<rect x="22.80" y="548.80" width="6.00" height="1.40" rx="0.70" fill="#1a1a1a" fill-opacity="0.25" filter="url(#b1)"/>
<rect x="57.50" y="550.30" width="15.00" height="2.00" rx="1.00" fill="#1a1a1a" fill-opacity="0.50" filter="url(#b1)"/>
<rect x="59.00" y="547.40" width="12.00" height="1.20" rx="0.60" fill="#1a1a1a" fill-opacity="0.20" filter="url(#b1)"/>
<rect x="75.00" y="550.30" width="15.00" height="2.00" rx="1.00" fill="#1a1a1a" fill-opacity="0.55" filter="url(#b1)"/>
<rect x="76.50" y="547.40" width="12.00" height="1.20" rx="0.60" fill="#1a1a1a" fill-opacity="0.22" filter="url(#b1)"/>
<rect x="91.30" y="550.30" width="15.00" height="2.00" rx="1.00" fill="#1a1a1a" fill-opacity="0.60" filter="url(#b1)"/>
<rect x="92.80" y="547.40" width="12.00" height="1.20" rx="0.60" fill="#1a1a1a" fill-opacity="0.24" filter="url(#b1)"/>
<rect x="108.80" y="550.30" width="15.00" height="2.00" rx="1.00" fill="#1a1a1a" fill-opacity="0.65" filter="url(#b1)"/>
<rect x="110.30" y="547.40" width="12.00" height="1.20" rx="0.60" fill="#1a1a1a" fill-opacity="0.26" filter="url(#b1)"/>
<rect x="76.00" y="556.30" width="13.00" height="2.60" rx="1.30" fill="#1a1a1a" fill-opacity="0.30" filter="url(#b1)"/>
<rect x="92.30" y="556.30" width="13.00" height="2.60" rx="1.30" fill="#1a1a1a" fill-opacity="0.90" filter="url(#b1)"/>
<rect x="109.80" y="556.30" width="13.00" height="2.60" rx="1.30" fill="#1a1a1a" fill-opacity="0.60" filter="url(#b1)"/>
<rect x="17.00" y="563.80" width="108.60" height="71.70" fill="#e0e0e0" />
<rect x="21.55" y="568.00" width="14.50" height="3.20" rx="1.60" fill="#1a1a1a" fill-opacity="0.95" filter="url(#b1)"/>
<rect x="20.05" y="574.90" width="17.50" height="5.40" rx="2.70" fill="#1a1a1a" fill-opacity="1.00" filter="url(#b1)"/>
<rect x="20.55" y="602.05" width="16.50" height="3.50" rx="1.75" fill="#1a1a1a" fill-opacity="1.00" filter="url(#b1)"/>
<rect x="20.80" y="614.50" width="16.00" height="3.00" rx="1.50" fill="#1a1a1a" fill-opacity="1.00" filter="url(#b1)"/>
<rect x="23.30" y="626.10" width="11.00" height="1.80" rx="0.90" fill="#1a1a1a" fill-opacity="0.15" filter="url(#b1)"/>
<rect x="40.00" y="568.45" width="14.00" height="3.20" rx="1.60" fill="#1a1a1a" fill-opacity="0.95" filter="url(#b1)"/>
<rect x="38.25" y="574.90" width="17.50" height="5.40" rx="2.70" fill="#1a1a1a" fill-opacity="1.00" filter="url(#b1)"/>
<rect x="38.75" y="602.85" width="16.50" height="3.50" rx="1.75" fill="#1a1a1a" fill-opacity="1.00" filter="url(#b1)"/>
<rect x="39.00" y="615.30" width="16.00" height="3.00" rx="1.50" fill="#1a1a1a" fill-opacity="1.00" filter="url(#b1)"/>
<rect x="41.50" y="626.70" width="11.00" height="1.80" rx="0.90" fill="#1a1a1a" fill-opacity="0.40" filter="url(#b1)"/>
<rect x="58.25" y="568.90" width="13.50" height="3.20" rx="1.60" fill="#1a1a1a" fill-opacity="0.95" filter="url(#b1)"/>
<rect x="56.25" y="574.90" width="17.50" height="5.40" rx="2.70" fill="#1a1a1a" fill-opacity="1.00" filter="url(#b1)"/>
<rect x="56.75" y="602.85" width="16.50" height="3.50" rx="1.75" fill="#1a1a1a" fill-opacity="1.00" filter="url(#b1)"/>
<rect x="57.00" y="615.30" width="16.00" height="3.00" rx="1.50" fill="#1a1a1a" fill-opacity="1.00" filter="url(#b1)"/>
<rect x="59.50" y="626.70" width="11.00" height="1.80" rx="0.90" fill="#1a1a1a" fill-opacity="0.45" filter="url(#b1)"/>
<rect x="76.00" y="569.35" width="13.00" height="3.20" rx="1.60" fill="#1a1a1a" fill-opacity="0.95" filter="url(#b1)"/>
<rect x="73.75" y="574.90" width="17.50" height="5.40" rx="2.70" fill="#1a1a1a" fill-opacity="1.00" filter="url(#b1)"/>
<rect x="74.25" y="602.85" width="16.50" height="3.50" rx="1.75" fill="#1a1a1a" fill-opacity="1.00" filter="url(#b1)"/>
<rect x="74.50" y="615.30" width="16.00" height="3.00" rx="1.50" fill="#1a1a1a" fill-opacity="1.00" filter="url(#b1)"/>
<rect x="77.00" y="626.70" width="11.00" height="1.80" rx="0.90" fill="#1a1a1a" fill-opacity="0.55" filter="url(#b1)"/>
<rect x="92.55" y="569.80" width="12.50" height="3.20" rx="1.60" fill="#1a1a1a" fill-opacity="0.95" filter="url(#b1)"/>
<rect x="90.05" y="574.90" width="17.50" height="5.40" rx="2.70" fill="#1a1a1a" fill-opacity="1.00" filter="url(#b1)"/>
<rect x="90.55" y="602.85" width="16.50" height="3.50" rx="1.75" fill="#1a1a1a" fill-opacity="1.00" filter="url(#b1)"/>
<rect x="90.80" y="615.30" width="16.00" height="3.00" rx="1.50" fill="#1a1a1a" fill-opacity="1.00" filter="url(#b1)"/>
<rect x="93.30" y="626.70" width="11.00" height="1.80" rx="0.90" fill="#1a1a1a" fill-opacity="0.50" filter="url(#b1)"/>
<rect x="107.55" y="576.95" width="17.50" height="3.70" rx="1.85" fill="#1a1a1a" fill-opacity="1.00" filter="url(#b1)"/>
<rect x="108.05" y="602.85" width="16.50" height="3.50" rx="1.75" fill="#1a1a1a" fill-opacity="1.00" filter="url(#b1)"/>
<rect x="108.30" y="615.30" width="16.00" height="3.00" rx="1.50" fill="#1a1a1a" fill-opacity="1.00" filter="url(#b1)"/>
<rect x="110.80" y="626.70" width="11.00" height="1.80" rx="0.90" fill="#1a1a1a" fill-opacity="0.35" filter="url(#b1)"/>
<rect x="17.00" y="638.60" width="108.60" height="14.60" fill="#e8e8e8" />
<rect x="22.55" y="644.15" width="12.50" height="1.70" rx="0.85" fill="#1a1a1a" fill-opacity="0.65" filter="url(#b1)"/>
<rect x="40.75" y="644.65" width="12.50" height="1.70" rx="0.85" fill="#1a1a1a" fill-opacity="0.65" filter="url(#b1)"/>
<rect x="58.75" y="644.65" width="12.50" height="1.70" rx="0.85" fill="#1a1a1a" fill-opacity="0.65" filter="url(#b1)"/>
<rect x="76.25" y="644.65" width="12.50" height="1.70" rx="0.85" fill="#1a1a1a" fill-opacity="0.65" filter="url(#b1)"/>
<rect x="92.55" y="644.65" width="12.50" height="1.70" rx="0.85" fill="#1a1a1a" fill-opacity="0.65" filter="url(#b1)"/>
<rect x="110.05" y="645.15" width="12.50" height="1.70" rx="0.85" fill="#1a1a1a" fill-opacity="0.65" filter="url(#b1)"/>
<text x="130.00" y="514.30" font-size="10" fill="#222" stroke="#222" stroke-width="0.3">P-ACC</text>
<text x="161.20" y="517.60" font-size="5.5" fill="#808080" stroke="#808080" stroke-width="0.3">Ser79</text>
<text x="130.00" y="535.50" font-size="10" fill="#222" stroke="#222" stroke-width="0.3">CPT1α</text>
<text x="130.00" y="555.20" font-size="10" fill="#222" stroke="#222" stroke-width="0.3">PGC1α</text>
<text x="132.00" y="573.00" font-size="8.35" fill="#262626" stroke="#262626" stroke-width="0.3">V-ATPA</text>
<text x="132.00" y="581.30" font-size="8.35" fill="#262626" stroke="#262626" stroke-width="0.3">III-UQCRC2</text>
<text x="132.00" y="608.00" font-size="8.35" fill="#262626" stroke="#262626" stroke-width="0.3">II-SDHB</text>
<text x="132.00" y="618.80" font-size="8.35" fill="#262626" stroke="#262626" stroke-width="0.3">IV-COXII</text>
<text x="132.00" y="630.50" font-size="8.35" fill="#262626" stroke="#262626" stroke-width="0.3">I-NNDUFB8</text>
<text x="130.00" y="648.80" font-size="9.7" fill="#222" stroke="#222" stroke-width="0.3">Vinculin</text>
</g>
<g id="panelI">
<text x="194.00" y="516.30" font-size="15.5" fill="#000" stroke="#000" stroke-width="0.15" font-weight="bold">I</text>
<rect x="208.00" y="508.00" width="53.40" height="20.00" fill="#fff" stroke="#111" stroke-width="1.4" />
<rect x="211.20" y="511.50" width="11.60" height="3.80" fill="#2c3e9e" stroke="#111" stroke-width="1.6" />
<rect x="211.20" y="520.70" width="11.60" height="3.80" fill="#b01e2c" stroke="#111" stroke-width="1.6" />
<text x="225.80" y="516.40" font-size="8.8" fill="#111" stroke="#111" stroke-width="0.3">Low  fat</text>
<text x="225.80" y="525.90" font-size="8.8" fill="#111" stroke="#111" stroke-width="0.3">High fat</text>
<line x1="237.45" y1="561.36" x2="237.45" y2="574.76" stroke="#111" stroke-width="1.4"/>
<line x1="234.65" y1="561.36" x2="240.25" y2="561.36" stroke="#111" stroke-width="1.4"/>
<rect x="231.80" y="574.76" width="11.30" height="41.44" fill="#2c3e9e" stroke="#111" stroke-width="1" />
<line x1="250.50" y1="584.68" x2="250.50" y2="596.21" stroke="#111" stroke-width="1.4"/>
<line x1="247.70" y1="584.68" x2="253.30" y2="584.68" stroke="#111" stroke-width="1.4"/>
<rect x="245.70" y="596.21" width="9.60" height="19.99" fill="#8e92d2" stroke="#111" stroke-width="1" />
<line x1="265.95" y1="556.40" x2="265.95" y2="560.14" stroke="#111" stroke-width="1.4"/>
<line x1="263.15" y1="556.40" x2="268.75" y2="556.40" stroke="#111" stroke-width="1.4"/>
<rect x="260.80" y="560.14" width="10.30" height="56.06" fill="#b01e2c" stroke="#111" stroke-width="1" />
<line x1="278.80" y1="585.65" x2="278.80" y2="596.21" stroke="#111" stroke-width="1.4"/>
<line x1="276.00" y1="585.65" x2="281.60" y2="585.65" stroke="#111" stroke-width="1.4"/>
<rect x="274.00" y="596.21" width="9.60" height="19.99" fill="#f5a5aa" stroke="#111" stroke-width="1" />
<line x1="225.00" y1="550.60" x2="225.00" y2="616.90" stroke="#111" stroke-width="1.4"/>
<line x1="224.30" y1="616.20" x2="286.40" y2="616.20" stroke="#111" stroke-width="1.4"/>
<line x1="221.80" y1="616.20" x2="225.00" y2="616.20" stroke="#111" stroke-width="1.2"/>
<text x="220.60" y="619.30" font-size="8.8" text-anchor="end" fill="#222" stroke="#222" stroke-width="0.3">0</text>
<line x1="221.80" y1="599.95" x2="225.00" y2="599.95" stroke="#111" stroke-width="1.2"/>
<text x="220.60" y="603.05" font-size="8.8" text-anchor="end" fill="#222" stroke="#222" stroke-width="0.3">20</text>
<line x1="221.80" y1="583.70" x2="225.00" y2="583.70" stroke="#111" stroke-width="1.2"/>
<text x="220.60" y="586.80" font-size="8.8" text-anchor="end" fill="#222" stroke="#222" stroke-width="0.3">40</text>
<line x1="221.80" y1="567.45" x2="225.00" y2="567.45" stroke="#111" stroke-width="1.2"/>
<text x="220.60" y="570.55" font-size="8.8" text-anchor="end" fill="#222" stroke="#222" stroke-width="0.3">60</text>
<line x1="221.80" y1="551.20" x2="225.00" y2="551.20" stroke="#111" stroke-width="1.2"/>
<text x="220.60" y="554.30" font-size="8.8" text-anchor="end" fill="#222" stroke="#222" stroke-width="0.3">80</text>
<line x1="237.50" y1="616.20" x2="237.50" y2="619.20" stroke="#111" stroke-width="1.2"/>
<text x="237.50" y="628.20" font-size="8.6" text-anchor="middle" fill="#222" stroke="#222" stroke-width="0.3">0</text>
<line x1="250.60" y1="616.20" x2="250.60" y2="619.20" stroke="#111" stroke-width="1.2"/>
<text x="250.60" y="628.20" font-size="8.6" text-anchor="middle" fill="#222" stroke="#222" stroke-width="0.3">90</text>
<line x1="265.60" y1="616.20" x2="265.60" y2="619.20" stroke="#111" stroke-width="1.2"/>
<text x="265.60" y="628.20" font-size="8.6" text-anchor="middle" fill="#222" stroke="#222" stroke-width="0.3">0</text>
<line x1="278.60" y1="616.20" x2="278.60" y2="619.20" stroke="#111" stroke-width="1.2"/>
<text x="278.60" y="628.20" font-size="8.6" text-anchor="middle" fill="#222" stroke="#222" stroke-width="0.3">90</text>
<text x="257.20" y="638.00" font-size="8.8" text-anchor="middle" fill="#262626" stroke="#262626" stroke-width="0.3">Time (d) of estrogen</text>
<text x="256.60" y="648.80" font-size="8.8" text-anchor="middle" fill="#262626" stroke="#262626" stroke-width="0.3">withdrawal</text>
<text x="206.20" y="588.00" font-size="8.8" text-anchor="middle" fill="#262626" stroke="#262626" stroke-width="0.3" transform="rotate(-90 206.20 588.00)">% Ki67-positive cells</text>
<line x1="252.00" y1="538.00" x2="276.30" y2="538.00" stroke="#1a1a1a" stroke-width="1.5"/>
<text x="261.50" y="536.30" font-size="8.2" text-anchor="middle" fill="#262626" stroke="#262626" stroke-width="0.3">n.s.</text>
<line x1="235.00" y1="548.00" x2="265.00" y2="548.00" stroke="#1a1a1a" stroke-width="1.5"/>
<text x="250.40" y="546.30" font-size="8.2" text-anchor="middle" fill="#262626" stroke="#262626" stroke-width="0.3">n.s.</text>
<line x1="236.30" y1="557.00" x2="254.30" y2="557.00" stroke="#1a1a1a" stroke-width="1.6"/>
<text x="246.80" y="560.60" font-size="10.5" text-anchor="middle" fill="#111" stroke="#111" stroke-width="0.15" font-weight="bold">*</text>
<line x1="265.00" y1="553.00" x2="282.00" y2="553.00" stroke="#1a1a1a" stroke-width="1.6"/>
<text x="273.80" y="556.60" font-size="10.5" text-anchor="middle" fill="#111" stroke="#111" stroke-width="0.15" font-weight="bold">*</text>
</g>
<g id="panelJ">
<text x="305.00" y="516.60" font-size="15.5" fill="#000" stroke="#000" stroke-width="0.15" font-weight="bold">J</text>
<rect x="319.50" y="507.60" width="53.40" height="20.00" fill="#fff" stroke="#111" stroke-width="1.4" />
<rect x="322.70" y="511.10" width="11.60" height="3.80" fill="#2c3e9e" stroke="#111" stroke-width="1.6" />
<rect x="322.70" y="520.30" width="11.60" height="3.80" fill="#b01e2c" stroke="#111" stroke-width="1.6" />
<text x="337.30" y="516.00" font-size="8.8" fill="#111" stroke="#111" stroke-width="0.3">Low  fat</text>
<text x="337.30" y="525.50" font-size="8.8" fill="#111" stroke="#111" stroke-width="0.3">High fat</text>
<line x1="352.80" y1="575.33" x2="352.80" y2="588.60" stroke="#111" stroke-width="1.4"/>
<line x1="350.00" y1="575.33" x2="355.60" y2="575.33" stroke="#111" stroke-width="1.4"/>
<rect x="347.90" y="588.60" width="9.80" height="27.20" fill="#2c3e9e" stroke="#111" stroke-width="1" />
<line x1="365.65" y1="555.26" x2="365.65" y2="558.50" stroke="#111" stroke-width="1.4"/>
<line x1="362.85" y1="555.26" x2="368.45" y2="555.26" stroke="#111" stroke-width="1.4"/>
<rect x="360.80" y="558.50" width="9.70" height="57.30" fill="#8e92d2" stroke="#111" stroke-width="1" />
<line x1="380.55" y1="560.96" x2="380.55" y2="565.94" stroke="#111" stroke-width="1.4"/>
<line x1="377.75" y1="560.96" x2="383.35" y2="560.96" stroke="#111" stroke-width="1.4"/>
<rect x="375.80" y="565.94" width="9.50" height="49.86" fill="#b01e2c" stroke="#111" stroke-width="1" />
<line x1="393.75" y1="557.33" x2="393.75" y2="565.62" stroke="#111" stroke-width="1.4"/>
<line x1="390.95" y1="557.33" x2="396.55" y2="557.33" stroke="#111" stroke-width="1.4"/>
<rect x="389.00" y="565.62" width="9.50" height="50.18" fill="#f5a5aa" stroke="#111" stroke-width="1" />
<line x1="340.80" y1="550.40" x2="340.80" y2="616.50" stroke="#111" stroke-width="1.4"/>
<line x1="340.10" y1="615.80" x2="400.30" y2="615.80" stroke="#111" stroke-width="1.4"/>
<line x1="337.60" y1="615.80" x2="340.80" y2="615.80" stroke="#111" stroke-width="1.2"/>
<text x="336.20" y="618.90" font-size="8.8" text-anchor="end" fill="#222" stroke="#222" stroke-width="0.3">0</text>
<line x1="337.60" y1="602.85" x2="340.80" y2="602.85" stroke="#111" stroke-width="1.2"/>
<text x="336.20" y="605.95" font-size="8.8" text-anchor="end" fill="#222" stroke="#222" stroke-width="0.3">20</text>
<line x1="337.60" y1="589.90" x2="340.80" y2="589.90" stroke="#111" stroke-width="1.2"/>
<text x="336.20" y="593.00" font-size="8.8" text-anchor="end" fill="#222" stroke="#222" stroke-width="0.3">40</text>
<line x1="337.60" y1="576.95" x2="340.80" y2="576.95" stroke="#111" stroke-width="1.2"/>
<text x="336.20" y="580.05" font-size="8.8" text-anchor="end" fill="#222" stroke="#222" stroke-width="0.3">60</text>
<line x1="337.60" y1="564.00" x2="340.80" y2="564.00" stroke="#111" stroke-width="1.2"/>
<text x="336.20" y="567.10" font-size="8.8" text-anchor="end" fill="#222" stroke="#222" stroke-width="0.3">80</text>
<line x1="337.60" y1="551.05" x2="340.80" y2="551.05" stroke="#111" stroke-width="1.2"/>
<text x="336.20" y="554.15" font-size="8.8" text-anchor="end" fill="#222" stroke="#222" stroke-width="0.3">100</text>
<line x1="352.60" y1="615.80" x2="352.60" y2="618.80" stroke="#111" stroke-width="1.2"/>
<text x="352.60" y="628.20" font-size="8.6" text-anchor="middle" fill="#222" stroke="#222" stroke-width="0.3">0</text>
<line x1="365.60" y1="615.80" x2="365.60" y2="618.80" stroke="#111" stroke-width="1.2"/>
<text x="365.60" y="628.20" font-size="8.6" text-anchor="middle" fill="#222" stroke="#222" stroke-width="0.3">90</text>
<line x1="380.50" y1="615.80" x2="380.50" y2="618.80" stroke="#111" stroke-width="1.2"/>
<text x="380.50" y="628.20" font-size="8.6" text-anchor="middle" fill="#222" stroke="#222" stroke-width="0.3">0</text>
<line x1="393.40" y1="615.80" x2="393.40" y2="618.80" stroke="#111" stroke-width="1.2"/>
<text x="393.40" y="628.20" font-size="8.6" text-anchor="middle" fill="#222" stroke="#222" stroke-width="0.3">90</text>
<text x="370.00" y="638.00" font-size="8.8" text-anchor="middle" fill="#262626" stroke="#262626" stroke-width="0.3">Time (d) of estrogen</text>
<text x="369.40" y="649.20" font-size="8.8" text-anchor="middle" fill="#262626" stroke="#262626" stroke-width="0.3">withdrawal</text>
<text x="315.60" y="585.20" font-size="8.9" text-anchor="middle" fill="#262626" stroke="#262626" stroke-width="0.3" transform="rotate(-90 315.60 585.20)">% CPT1α-positive cells</text>
<line x1="348.00" y1="536.30" x2="381.30" y2="536.30" stroke="#1a1a1a" stroke-width="1.6"/>
<text x="365.50" y="539.90" font-size="10.5" text-anchor="middle" fill="#111" stroke="#111" stroke-width="0.15" font-weight="bold">*</text>
<line x1="365.00" y1="544.60" x2="393.80" y2="544.60" stroke="#1a1a1a" stroke-width="1.5"/>
<text x="381.00" y="542.90" font-size="8.2" text-anchor="middle" fill="#262626" stroke="#262626" stroke-width="0.3">n.s.</text>
<line x1="378.30" y1="552.00" x2="395.20" y2="552.00" stroke="#1a1a1a" stroke-width="1.5"/>
<text x="388.20" y="550.30" font-size="8.2" text-anchor="middle" fill="#262626" stroke="#262626" stroke-width="0.3">n.s.</text>
<line x1="350.50" y1="552.00" x2="367.50" y2="552.00" stroke="#1a1a1a" stroke-width="1.6"/>
<text x="359.30" y="555.60" font-size="10.5" text-anchor="middle" fill="#111" stroke="#111" stroke-width="0.15" font-weight="bold">*</text>
</g>
<g id="panelK">
<text x="405.80" y="516.60" font-size="15.5" fill="#000" stroke="#000" stroke-width="0.15" font-weight="bold">K</text>
<rect x="425.20" y="507.60" width="53.40" height="20.00" fill="#fff" stroke="#111" stroke-width="1.4" />
<rect x="428.40" y="511.10" width="11.60" height="3.80" fill="#2c3e9e" stroke="#111" stroke-width="1.6" />
<rect x="428.40" y="520.30" width="11.60" height="3.80" fill="#b01e2c" stroke="#111" stroke-width="1.6" />
<text x="443.00" y="516.00" font-size="8.8" fill="#111" stroke="#111" stroke-width="0.3">Low  fat</text>
<text x="443.00" y="525.50" font-size="8.8" fill="#111" stroke="#111" stroke-width="0.3">High fat</text>
<line x1="457.90" y1="587.55" x2="457.90" y2="597.90" stroke="#111" stroke-width="1.4"/>
<line x1="455.10" y1="587.55" x2="460.70" y2="587.55" stroke="#111" stroke-width="1.4"/>
<rect x="453.10" y="597.90" width="9.60" height="18.10" fill="#2c3e9e" stroke="#111" stroke-width="1" />
<line x1="470.60" y1="565.90" x2="470.60" y2="575.27" stroke="#111" stroke-width="1.4"/>
<line x1="467.80" y1="565.90" x2="473.40" y2="565.90" stroke="#111" stroke-width="1.4"/>
<rect x="465.70" y="575.27" width="9.80" height="40.73" fill="#8e92d2" stroke="#111" stroke-width="1" />
<line x1="485.55" y1="564.09" x2="485.55" y2="571.71" stroke="#111" stroke-width="1.4"/>
<line x1="482.75" y1="564.09" x2="488.35" y2="564.09" stroke="#111" stroke-width="1.4"/>
<rect x="480.70" y="571.71" width="9.70" height="44.29" fill="#b01e2c" stroke="#111" stroke-width="1" />
<line x1="498.40" y1="567.00" x2="498.40" y2="570.10" stroke="#111" stroke-width="1.4"/>
<line x1="495.60" y1="567.00" x2="501.20" y2="567.00" stroke="#111" stroke-width="1.4"/>
<rect x="493.50" y="570.10" width="9.80" height="45.90" fill="#f5a5aa" stroke="#111" stroke-width="1" />
<line x1="445.00" y1="550.80" x2="445.00" y2="616.70" stroke="#111" stroke-width="1.4"/>
<line x1="444.30" y1="616.00" x2="505.80" y2="616.00" stroke="#111" stroke-width="1.4"/>
<line x1="441.80" y1="616.00" x2="445.00" y2="616.00" stroke="#111" stroke-width="1.2"/>
<text x="440.60" y="619.10" font-size="8.8" text-anchor="end" fill="#222" stroke="#222" stroke-width="0.3">0</text>
<line x1="441.80" y1="603.07" x2="445.00" y2="603.07" stroke="#111" stroke-width="1.2"/>
<text x="440.60" y="606.17" font-size="8.8" text-anchor="end" fill="#222" stroke="#222" stroke-width="0.3">20</text>
<line x1="441.80" y1="590.14" x2="445.00" y2="590.14" stroke="#111" stroke-width="1.2"/>
<text x="440.60" y="593.24" font-size="8.8" text-anchor="end" fill="#222" stroke="#222" stroke-width="0.3">40</text>
<line x1="441.80" y1="577.21" x2="445.00" y2="577.21" stroke="#111" stroke-width="1.2"/>
<text x="440.60" y="580.31" font-size="8.8" text-anchor="end" fill="#222" stroke="#222" stroke-width="0.3">60</text>
<line x1="441.80" y1="564.28" x2="445.00" y2="564.28" stroke="#111" stroke-width="1.2"/>
<text x="440.60" y="567.38" font-size="8.8" text-anchor="end" fill="#222" stroke="#222" stroke-width="0.3">80</text>
<line x1="441.80" y1="551.35" x2="445.00" y2="551.35" stroke="#111" stroke-width="1.2"/>
<text x="440.60" y="554.45" font-size="8.8" text-anchor="end" fill="#222" stroke="#222" stroke-width="0.3">100</text>
<line x1="458.00" y1="616.00" x2="458.00" y2="619.00" stroke="#111" stroke-width="1.2"/>
<text x="458.00" y="627.60" font-size="8.6" text-anchor="middle" fill="#222" stroke="#222" stroke-width="0.3">0</text>
<line x1="471.40" y1="616.00" x2="471.40" y2="619.00" stroke="#111" stroke-width="1.2"/>
<text x="471.40" y="627.60" font-size="8.6" text-anchor="middle" fill="#222" stroke="#222" stroke-width="0.3">90</text>
<line x1="485.20" y1="616.00" x2="485.20" y2="619.00" stroke="#111" stroke-width="1.2"/>
<text x="485.20" y="627.60" font-size="8.6" text-anchor="middle" fill="#222" stroke="#222" stroke-width="0.3">0</text>
<line x1="498.40" y1="616.00" x2="498.40" y2="619.00" stroke="#111" stroke-width="1.2"/>
<text x="498.40" y="627.60" font-size="8.6" text-anchor="middle" fill="#222" stroke="#222" stroke-width="0.3">90</text>
<text x="474.30" y="638.60" font-size="8.8" text-anchor="middle" fill="#262626" stroke="#262626" stroke-width="0.3">Time (d) of estrogen</text>
<text x="473.70" y="648.60" font-size="8.8" text-anchor="middle" fill="#262626" stroke="#262626" stroke-width="0.3">withdrawal</text>
<text x="419.00" y="585.00" font-size="8.9" text-anchor="middle" fill="#262626" stroke="#262626" stroke-width="0.3" transform="rotate(-90 419.00 585.00)">% P-ACC-positive cells</text>
<line x1="452.70" y1="544.80" x2="486.80" y2="544.80" stroke="#1a1a1a" stroke-width="1.6"/>
<text x="470.00" y="548.40" font-size="10.5" text-anchor="middle" fill="#111" stroke="#111" stroke-width="0.15" font-weight="bold">*</text>
<line x1="470.70" y1="553.00" x2="498.40" y2="553.00" stroke="#1a1a1a" stroke-width="1.5"/>
<text x="485.60" y="551.30" font-size="8.2" text-anchor="middle" fill="#262626" stroke="#262626" stroke-width="0.3">n.s.</text>
<line x1="482.70" y1="560.60" x2="500.80" y2="560.60" stroke="#1a1a1a" stroke-width="1.5"/>
<text x="492.80" y="558.90" font-size="8.2" text-anchor="middle" fill="#262626" stroke="#262626" stroke-width="0.3">n.s.</text>
<line x1="455.00" y1="560.60" x2="472.00" y2="560.60" stroke="#1a1a1a" stroke-width="1.6"/>
<text x="464.70" y="564.20" font-size="10.5" text-anchor="middle" fill="#111" stroke="#111" stroke-width="0.15" font-weight="bold">*</text>
</g>
<g id="panelH">
<text x="1.20" y="672.20" font-size="15.5" fill="#000" stroke="#000" stroke-width="0.15" font-weight="bold">H</text>
<rect x="22.00" y="667.60" width="94.30" height="22.40" fill="#fff" stroke="#111" stroke-width="1.4" />
<line x1="27.50" y1="673.30" x2="40.00" y2="673.30" stroke="#2a3a94" stroke-width="1.6"/>
<line x1="27.50" y1="684.30" x2="40.00" y2="684.30" stroke="#931d2a" stroke-width="1.6"/>
<text x="44.50" y="675.70" font-size="8.8" fill="#262626" stroke="#262626" stroke-width="0.3">Low fat (<tspan font-style="italic">n</tspan> = 20)</text>
<text x="44.50" y="686.90" font-size="8.8" fill="#262626" stroke="#262626" stroke-width="0.3">High fat (<tspan font-style="italic">n</tspan> = 18)</text>
<polyline points="47.50,698.80 57.20,698.80 57.20,705.20 62.60,705.20 62.60,708.40 67.60,708.40 67.60,711.60 83.80,711.60 83.80,715.12 110.80,715.12 110.80,721.84" fill="none" stroke="#931d2a" stroke-width="1.6"/>
<polyline points="47.50,698.80 52.00,698.80 52.00,714.80 57.50,714.80 57.50,727.60 62.60,727.60 62.60,753.20 68.00,753.20 68.00,759.60 78.80,759.60 78.80,762.80" fill="none" stroke="#2a3a94" stroke-width="1.6"/>
<line x1="47.50" y1="698.10" x2="47.50" y2="763.50" stroke="#111" stroke-width="1.4"/>
<line x1="46.80" y1="762.80" x2="111.60" y2="762.80" stroke="#111" stroke-width="1.4"/>
<line x1="44.30" y1="698.80" x2="47.50" y2="698.80" stroke="#111" stroke-width="1.2"/>
<text x="41.20" y="701.90" font-size="8.6" text-anchor="end" fill="#222" stroke="#222" stroke-width="0.3">0</text>
<line x1="44.30" y1="714.80" x2="47.50" y2="714.80" stroke="#111" stroke-width="1.2"/>
<text x="41.20" y="717.90" font-size="8.6" text-anchor="end" fill="#222" stroke="#222" stroke-width="0.3">25</text>
<line x1="44.30" y1="730.80" x2="47.50" y2="730.80" stroke="#111" stroke-width="1.2"/>
<text x="41.20" y="733.90" font-size="8.6" text-anchor="end" fill="#222" stroke="#222" stroke-width="0.3">50</text>
<line x1="44.30" y1="746.80" x2="47.50" y2="746.80" stroke="#111" stroke-width="1.2"/>
<text x="41.20" y="749.90" font-size="8.6" text-anchor="end" fill="#222" stroke="#222" stroke-width="0.3">75</text>
<line x1="44.30" y1="762.80" x2="47.50" y2="762.80" stroke="#111" stroke-width="1.2"/>
<text x="41.20" y="765.90" font-size="8.6" text-anchor="end" fill="#222" stroke="#222" stroke-width="0.3">100</text>
<line x1="47.50" y1="762.80" x2="47.50" y2="766.00" stroke="#111" stroke-width="1.2"/>
<line x1="58.04" y1="762.80" x2="58.04" y2="766.00" stroke="#111" stroke-width="1.2"/>
<line x1="68.58" y1="762.80" x2="68.58" y2="766.00" stroke="#111" stroke-width="1.2"/>
<line x1="79.12" y1="762.80" x2="79.12" y2="766.00" stroke="#111" stroke-width="1.2"/>
<line x1="89.66" y1="762.80" x2="89.66" y2="766.00" stroke="#111" stroke-width="1.2"/>
<line x1="100.20" y1="762.80" x2="100.20" y2="766.00" stroke="#111" stroke-width="1.2"/>
<line x1="110.74" y1="762.80" x2="110.74" y2="766.00" stroke="#111" stroke-width="1.2"/>
<text x="47.50" y="775.80" font-size="8.8" text-anchor="middle" fill="#222" stroke="#222" stroke-width="0.3">0</text>
<text x="57.80" y="775.80" font-size="8.8" text-anchor="middle" fill="#222" stroke="#222" stroke-width="0.3">2</text>
<text x="68.20" y="775.80" font-size="8.8" text-anchor="middle" fill="#222" stroke="#222" stroke-width="0.3">4</text>
<text x="78.80" y="775.80" font-size="8.8" text-anchor="middle" fill="#222" stroke="#222" stroke-width="0.3">6</text>
<text x="89.60" y="775.80" font-size="8.8" text-anchor="middle" fill="#222" stroke="#222" stroke-width="0.3">8</text>
<text x="99.60" y="775.80" font-size="8.8" text-anchor="middle" fill="#222" stroke="#222" stroke-width="0.3">10</text>
<text x="109.80" y="775.80" font-size="8.8" text-anchor="middle" fill="#222" stroke="#222" stroke-width="0.3">12</text>
<text x="80.60" y="787.00" font-size="8.8" text-anchor="middle" fill="#262626" stroke="#262626" stroke-width="0.3">Time (d) of estrogen</text>
<text x="80.00" y="797.00" font-size="8.9" text-anchor="middle" fill="#262626" stroke="#262626" stroke-width="0.3">withdrawal</text>
<text x="20.20" y="731.50" font-size="9.2" text-anchor="middle" fill="#262626" stroke="#262626" stroke-width="0.3" transform="rotate(-90 20.20 731.50)">% Tumor free</text>
<text x="74.50" y="708.30" font-size="8.4" fill="#262626" stroke="#262626" stroke-width="0.3"><tspan font-style="italic">P</tspan> &lt; 0.0001</text>
</g>
<g id="dietTable">
<rect x="128.60" y="668.00" width="65.60" height="98.00" fill="#d9d9d9" />
<rect x="194.20" y="668.00" width="62.40" height="98.00" fill="#ffffff" />
<line x1="128.60" y1="688.80" x2="256.60" y2="688.80" stroke="#111" stroke-width="1.5"/>
<line x1="128.60" y1="703.20" x2="256.60" y2="703.20" stroke="#111" stroke-width="1.5"/>
<line x1="128.60" y1="725.00" x2="256.60" y2="725.00" stroke="#111" stroke-width="1.5"/>
<line x1="128.60" y1="745.00" x2="256.60" y2="745.00" stroke="#111" stroke-width="1.5"/>
<line x1="194.20" y1="668.00" x2="194.20" y2="766.00" stroke="#111" stroke-width="1.5"/>
<line x1="225.20" y1="668.00" x2="225.20" y2="766.00" stroke="#111" stroke-width="1.5"/>
<rect x="128.60" y="668.00" width="128.00" height="98.00" fill="none" stroke="#111" stroke-width="2.2" />
<text x="161.30" y="681.20" font-size="9.0" text-anchor="middle" fill="#222" stroke="#222" stroke-width="0.3">Diet</text>
<text x="210.60" y="677.30" font-size="8.8" text-anchor="middle" fill="#3d429b" stroke="#3d429b" stroke-width="0.3">Low</text>
<text x="210.60" y="685.90" font-size="8.8" text-anchor="middle" fill="#3d429b" stroke="#3d429b" stroke-width="0.3">fat</text>
<text x="241.40" y="677.30" font-size="8.8" text-anchor="middle" fill="#b0242d" stroke="#b0242d" stroke-width="0.3">High</text>
<text x="243.00" y="685.90" font-size="8.8" text-anchor="middle" fill="#b0242d" stroke="#b0242d" stroke-width="0.3">fat</text>
<text x="161.80" y="700.60" font-size="9.0" text-anchor="middle" fill="#222" stroke="#222" stroke-width="0.3">Fat (% kcal)</text>
<text x="161.80" y="712.10" font-size="9.0" text-anchor="middle" fill="#222" stroke="#222" stroke-width="0.3">Carbohydrate</text>
<text x="161.80" y="721.40" font-size="9.0" text-anchor="middle" fill="#222" stroke="#222" stroke-width="0.3">(% kcal)</text>
<text x="161.80" y="733.00" font-size="9.0" text-anchor="middle" fill="#222" stroke="#222" stroke-width="0.3">Protein</text>
<text x="161.80" y="741.70" font-size="9.0" text-anchor="middle" fill="#222" stroke="#222" stroke-width="0.3">(% kcal)</text>
<text x="161.80" y="753.20" font-size="9.0" text-anchor="middle" fill="#222" stroke="#222" stroke-width="0.3">Cholesterol</text>
<text x="161.80" y="762.40" font-size="9.0" text-anchor="middle" fill="#222" stroke="#222" stroke-width="0.3">(% kcal)</text>
<text x="210.40" y="698.40" font-size="8.5" text-anchor="middle" fill="#3d429b" stroke="#3d429b" stroke-width="0.3">10</text>
<text x="241.40" y="698.40" font-size="8.5" text-anchor="middle" fill="#b0242d" stroke="#b0242d" stroke-width="0.3">45</text>
<text x="210.40" y="711.90" font-size="8.5" text-anchor="middle" fill="#3d429b" stroke="#3d429b" stroke-width="0.3">70</text>
<text x="241.40" y="711.90" font-size="8.5" text-anchor="middle" fill="#b0242d" stroke="#b0242d" stroke-width="0.3">35</text>
<text x="210.40" y="733.00" font-size="8.5" text-anchor="middle" fill="#3d429b" stroke="#3d429b" stroke-width="0.3">20</text>
<text x="241.40" y="733.00" font-size="8.5" text-anchor="middle" fill="#b0242d" stroke="#b0242d" stroke-width="0.3">20</text>
<text x="210.40" y="752.30" font-size="8.5" text-anchor="middle" fill="#3d429b" stroke="#3d429b" stroke-width="0.3">51.6</text>
<text x="241.40" y="752.30" font-size="8.5" text-anchor="middle" fill="#b0242d" stroke="#b0242d" stroke-width="0.3">195.5</text>
</g>
<g id="panelL">
<text x="269.60" y="672.20" font-size="15.5" fill="#000" stroke="#000" stroke-width="0.15" font-weight="bold">L</text>
<text x="324.00" y="680.80" font-size="8.85" text-anchor="middle" fill="#262626" stroke="#262626" stroke-width="0.3">Growth conditions</text>
<text x="324.40" y="690.90" font-size="8.85" text-anchor="middle" fill="#262626" stroke="#262626" stroke-width="0.3">(with estrogen)</text>
<line x1="283.80" y1="698.00" x2="365.00" y2="698.00" stroke="#111" stroke-width="1.5"/>
<text x="461.20" y="680.70" font-size="8.85" text-anchor="middle" fill="#262626" stroke="#262626" stroke-width="0.3">Stress conditions</text>
<text x="461.20" y="691.40" font-size="8.85" text-anchor="middle" fill="#262626" stroke="#262626" stroke-width="0.3">(without estrogen)</text>
<line x1="420.40" y1="698.00" x2="503.40" y2="698.00" stroke="#111" stroke-width="1.5"/>
<text x="323.80" y="710.50" font-size="8.85" text-anchor="middle" fill="#222" stroke="#222" stroke-width="0.3">AMPK</text>
<text x="446.70" y="710.30" font-size="8.85" text-anchor="middle" fill="#222" stroke="#222" stroke-width="0.3">AMPK</text>
<text x="385.00" y="710.20" font-size="8.95" text-anchor="middle" fill="#8f1b2c" stroke="#8f1b2c" stroke-width="0.3">Metformin</text>
<text x="473.90" y="710.30" font-size="8.95" text-anchor="middle" fill="#8f1b2c" stroke="#8f1b2c" stroke-width="0.3">Fat</text>
<line x1="362.60" y1="707.40" x2="344.00" y2="707.40" stroke="#8f1b2c" stroke-width="1.9"/>
<polygon points="339.4,707.4 346.2,703.2 346.2,711.6" fill="#8f1b2c"/>
<line x1="408.20" y1="707.40" x2="427.00" y2="707.40" stroke="#8f1b2c" stroke-width="1.9"/>
<polygon points="431.8,707.4 425,703.2 425,711.6" fill="#8f1b2c"/>
<line x1="324.50" y1="713.40" x2="324.50" y2="735.00" stroke="#111" stroke-width="2.0" stroke-dasharray="1.5 1.5"/>
<polygon points="324.5,740.4 319.8,734.6 329.2,734.6" fill="#111"/>
<line x1="447.30" y1="713.60" x2="447.30" y2="723.80" stroke="#111" stroke-width="1.9"/>
<polygon points="447.3,727.8 442.8,721.5999999999999 451.8,721.5999999999999" fill="#111"/>
<line x1="474.20" y1="713.60" x2="474.20" y2="723.80" stroke="#8f1b2c" stroke-width="1.9"/>
<polygon points="474.2,727.8 469.7,721.5999999999999 478.7,721.5999999999999" fill="#8f1b2c"/>
<line x1="461.90" y1="740.60" x2="461.90" y2="752.00" stroke="#111" stroke-width="1.9"/>
<polygon points="461.9,756 457.4,749.8 466.4,749.8" fill="#111"/>
<text x="461.20" y="737.20" font-size="8.85" text-anchor="middle" fill="#222" stroke="#222" stroke-width="0.3">Fatty acid β-oxidation</text>
<text x="376.00" y="736.50" font-size="8.85" text-anchor="middle" fill="#3a3f98" stroke="#3a3f98" stroke-width="0.3">FAO inhibitor</text>
<line x1="404.60" y1="734.40" x2="415.00" y2="734.40" stroke="#3a3f98" stroke-width="1.6"/>
<line x1="415.00" y1="730.30" x2="415.00" y2="738.20" stroke="#3a3f98" stroke-width="1.8"/>
<text x="323.80" y="749.20" font-size="8.85" text-anchor="middle" fill="#262626" stroke="#262626" stroke-width="0.3">ER<tspan font-size="6.5" dy="-3.2" font-weight="bold">+</tspan><tspan dy="3.2"> BC cell</tspan></text>
<text x="322.80" y="759.80" font-size="8.85" text-anchor="middle" fill="#262626" stroke="#262626" stroke-width="0.3">growth inhibition</text>
<text x="462.50" y="766.60" font-size="8.85" text-anchor="middle" fill="#262626" stroke="#262626" stroke-width="0.3">ER<tspan font-size="6.5" dy="-3.2" font-weight="bold">+</tspan><tspan dy="3.2"> BC cell</tspan></text>
<text x="461.70" y="777.20" font-size="8.85" text-anchor="middle" fill="#262626" stroke="#262626" stroke-width="0.3">persistence</text>
</g>
</g>
</svg>
</body></html>
